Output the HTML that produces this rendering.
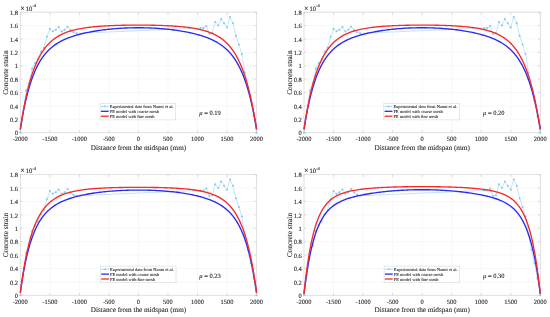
<!DOCTYPE html><html><head><meta charset="utf-8"><style>html,body{margin:0;padding:0;background:#fff;}svg{display:block;}text{font-family:"Liberation Serif",serif;fill:#2b2b2b;stroke:#2b2b2b;stroke-width:0.12px;text-rendering:geometricPrecision;}</style></head><body>
<svg width="550" height="317" viewBox="0 0 550 317">
<rect width="550" height="317" fill="#fff"/>
<line x1="20.30" y1="12.20" x2="20.30" y2="132.70" stroke="#f5f5f5" stroke-width="0.7"/>
<line x1="49.84" y1="12.20" x2="49.84" y2="132.70" stroke="#f5f5f5" stroke-width="0.7"/>
<line x1="79.38" y1="12.20" x2="79.38" y2="132.70" stroke="#f5f5f5" stroke-width="0.7"/>
<line x1="108.91" y1="12.20" x2="108.91" y2="132.70" stroke="#f5f5f5" stroke-width="0.7"/>
<line x1="138.45" y1="12.20" x2="138.45" y2="132.70" stroke="#f5f5f5" stroke-width="0.7"/>
<line x1="167.99" y1="12.20" x2="167.99" y2="132.70" stroke="#f5f5f5" stroke-width="0.7"/>
<line x1="197.53" y1="12.20" x2="197.53" y2="132.70" stroke="#f5f5f5" stroke-width="0.7"/>
<line x1="227.06" y1="12.20" x2="227.06" y2="132.70" stroke="#f5f5f5" stroke-width="0.7"/>
<line x1="256.60" y1="12.20" x2="256.60" y2="132.70" stroke="#f5f5f5" stroke-width="0.7"/>
<line x1="20.30" y1="132.70" x2="256.60" y2="132.70" stroke="#f5f5f5" stroke-width="0.7"/>
<line x1="20.30" y1="119.31" x2="256.60" y2="119.31" stroke="#f5f5f5" stroke-width="0.7"/>
<line x1="20.30" y1="105.92" x2="256.60" y2="105.92" stroke="#f5f5f5" stroke-width="0.7"/>
<line x1="20.30" y1="92.53" x2="256.60" y2="92.53" stroke="#f5f5f5" stroke-width="0.7"/>
<line x1="20.30" y1="79.14" x2="256.60" y2="79.14" stroke="#f5f5f5" stroke-width="0.7"/>
<line x1="20.30" y1="65.76" x2="256.60" y2="65.76" stroke="#f5f5f5" stroke-width="0.7"/>
<line x1="20.30" y1="52.37" x2="256.60" y2="52.37" stroke="#f5f5f5" stroke-width="0.7"/>
<line x1="20.30" y1="38.98" x2="256.60" y2="38.98" stroke="#f5f5f5" stroke-width="0.7"/>
<line x1="20.30" y1="25.59" x2="256.60" y2="25.59" stroke="#f5f5f5" stroke-width="0.7"/>
<line x1="20.30" y1="12.20" x2="256.60" y2="12.20" stroke="#f5f5f5" stroke-width="0.7"/>
<rect x="20.30" y="12.20" width="236.30" height="120.50" fill="none" stroke="#dcdcdc" stroke-width="0.8"/>
<line x1="20.30" y1="132.70" x2="20.30" y2="130.30" stroke="#cfcfcf" stroke-width="0.7"/>
<line x1="20.30" y1="12.20" x2="20.30" y2="14.60" stroke="#cfcfcf" stroke-width="0.7"/>
<line x1="49.84" y1="132.70" x2="49.84" y2="130.30" stroke="#cfcfcf" stroke-width="0.7"/>
<line x1="49.84" y1="12.20" x2="49.84" y2="14.60" stroke="#cfcfcf" stroke-width="0.7"/>
<line x1="79.38" y1="132.70" x2="79.38" y2="130.30" stroke="#cfcfcf" stroke-width="0.7"/>
<line x1="79.38" y1="12.20" x2="79.38" y2="14.60" stroke="#cfcfcf" stroke-width="0.7"/>
<line x1="108.91" y1="132.70" x2="108.91" y2="130.30" stroke="#cfcfcf" stroke-width="0.7"/>
<line x1="108.91" y1="12.20" x2="108.91" y2="14.60" stroke="#cfcfcf" stroke-width="0.7"/>
<line x1="138.45" y1="132.70" x2="138.45" y2="130.30" stroke="#cfcfcf" stroke-width="0.7"/>
<line x1="138.45" y1="12.20" x2="138.45" y2="14.60" stroke="#cfcfcf" stroke-width="0.7"/>
<line x1="167.99" y1="132.70" x2="167.99" y2="130.30" stroke="#cfcfcf" stroke-width="0.7"/>
<line x1="167.99" y1="12.20" x2="167.99" y2="14.60" stroke="#cfcfcf" stroke-width="0.7"/>
<line x1="197.53" y1="132.70" x2="197.53" y2="130.30" stroke="#cfcfcf" stroke-width="0.7"/>
<line x1="197.53" y1="12.20" x2="197.53" y2="14.60" stroke="#cfcfcf" stroke-width="0.7"/>
<line x1="227.06" y1="132.70" x2="227.06" y2="130.30" stroke="#cfcfcf" stroke-width="0.7"/>
<line x1="227.06" y1="12.20" x2="227.06" y2="14.60" stroke="#cfcfcf" stroke-width="0.7"/>
<line x1="256.60" y1="132.70" x2="256.60" y2="130.30" stroke="#cfcfcf" stroke-width="0.7"/>
<line x1="256.60" y1="12.20" x2="256.60" y2="14.60" stroke="#cfcfcf" stroke-width="0.7"/>
<line x1="20.30" y1="132.70" x2="22.70" y2="132.70" stroke="#cfcfcf" stroke-width="0.7"/>
<line x1="256.60" y1="132.70" x2="254.20" y2="132.70" stroke="#cfcfcf" stroke-width="0.7"/>
<line x1="20.30" y1="119.31" x2="22.70" y2="119.31" stroke="#cfcfcf" stroke-width="0.7"/>
<line x1="256.60" y1="119.31" x2="254.20" y2="119.31" stroke="#cfcfcf" stroke-width="0.7"/>
<line x1="20.30" y1="105.92" x2="22.70" y2="105.92" stroke="#cfcfcf" stroke-width="0.7"/>
<line x1="256.60" y1="105.92" x2="254.20" y2="105.92" stroke="#cfcfcf" stroke-width="0.7"/>
<line x1="20.30" y1="92.53" x2="22.70" y2="92.53" stroke="#cfcfcf" stroke-width="0.7"/>
<line x1="256.60" y1="92.53" x2="254.20" y2="92.53" stroke="#cfcfcf" stroke-width="0.7"/>
<line x1="20.30" y1="79.14" x2="22.70" y2="79.14" stroke="#cfcfcf" stroke-width="0.7"/>
<line x1="256.60" y1="79.14" x2="254.20" y2="79.14" stroke="#cfcfcf" stroke-width="0.7"/>
<line x1="20.30" y1="65.76" x2="22.70" y2="65.76" stroke="#cfcfcf" stroke-width="0.7"/>
<line x1="256.60" y1="65.76" x2="254.20" y2="65.76" stroke="#cfcfcf" stroke-width="0.7"/>
<line x1="20.30" y1="52.37" x2="22.70" y2="52.37" stroke="#cfcfcf" stroke-width="0.7"/>
<line x1="256.60" y1="52.37" x2="254.20" y2="52.37" stroke="#cfcfcf" stroke-width="0.7"/>
<line x1="20.30" y1="38.98" x2="22.70" y2="38.98" stroke="#cfcfcf" stroke-width="0.7"/>
<line x1="256.60" y1="38.98" x2="254.20" y2="38.98" stroke="#cfcfcf" stroke-width="0.7"/>
<line x1="20.30" y1="25.59" x2="22.70" y2="25.59" stroke="#cfcfcf" stroke-width="0.7"/>
<line x1="256.60" y1="25.59" x2="254.20" y2="25.59" stroke="#cfcfcf" stroke-width="0.7"/>
<line x1="20.30" y1="12.20" x2="22.70" y2="12.20" stroke="#cfcfcf" stroke-width="0.7"/>
<line x1="256.60" y1="12.20" x2="254.20" y2="12.20" stroke="#cfcfcf" stroke-width="0.7"/>
<polyline points="20.30,132.70 23.25,112.62 26.21,90.53 29.16,83.16 32.12,68.43 35.07,63.08 38.02,59.06 40.98,51.70 43.93,47.68 46.88,36.70 49.84,28.67 52.79,31.21 55.75,29.81 58.70,26.99 61.65,31.41 64.61,29.81 67.56,26.66 70.51,30.07 73.47,32.28 76.42,33.35 200.48,28.00 203.43,28.00 206.39,25.99 209.34,33.69 212.29,32.89 215.25,21.91 218.20,25.52 221.16,19.10 224.11,23.31 227.06,27.40 230.02,17.09 232.97,23.31 235.92,35.70 238.88,44.47 241.83,53.97 244.79,72.45 247.74,87.18 250.69,100.57 253.65,115.96 256.60,132.70" fill="none" stroke="#a2d9f1" stroke-width="0.65"/>
<circle cx="20.30" cy="132.70" r="1.0" fill="#7cc9ea"/>
<circle cx="23.25" cy="112.62" r="1.0" fill="#7cc9ea"/>
<circle cx="26.21" cy="90.53" r="1.0" fill="#7cc9ea"/>
<circle cx="29.16" cy="83.16" r="1.0" fill="#7cc9ea"/>
<circle cx="32.12" cy="68.43" r="1.0" fill="#7cc9ea"/>
<circle cx="35.07" cy="63.08" r="1.0" fill="#7cc9ea"/>
<circle cx="38.02" cy="59.06" r="1.0" fill="#7cc9ea"/>
<circle cx="40.98" cy="51.70" r="1.0" fill="#7cc9ea"/>
<circle cx="43.93" cy="47.68" r="1.0" fill="#7cc9ea"/>
<circle cx="46.88" cy="36.70" r="1.0" fill="#7cc9ea"/>
<circle cx="49.84" cy="28.67" r="1.0" fill="#7cc9ea"/>
<circle cx="52.79" cy="31.21" r="1.0" fill="#7cc9ea"/>
<circle cx="55.75" cy="29.81" r="1.0" fill="#7cc9ea"/>
<circle cx="58.70" cy="26.99" r="1.0" fill="#7cc9ea"/>
<circle cx="61.65" cy="31.41" r="1.0" fill="#7cc9ea"/>
<circle cx="64.61" cy="29.81" r="1.0" fill="#7cc9ea"/>
<circle cx="67.56" cy="26.66" r="1.0" fill="#7cc9ea"/>
<circle cx="70.51" cy="30.07" r="1.0" fill="#7cc9ea"/>
<circle cx="73.47" cy="32.28" r="1.0" fill="#7cc9ea"/>
<circle cx="76.42" cy="33.35" r="1.0" fill="#7cc9ea"/>
<circle cx="200.48" cy="28.00" r="1.0" fill="#7cc9ea"/>
<circle cx="203.43" cy="28.00" r="1.0" fill="#7cc9ea"/>
<circle cx="206.39" cy="25.99" r="1.0" fill="#7cc9ea"/>
<circle cx="209.34" cy="33.69" r="1.0" fill="#7cc9ea"/>
<circle cx="212.29" cy="32.89" r="1.0" fill="#7cc9ea"/>
<circle cx="215.25" cy="21.91" r="1.0" fill="#7cc9ea"/>
<circle cx="218.20" cy="25.52" r="1.0" fill="#7cc9ea"/>
<circle cx="221.16" cy="19.10" r="1.0" fill="#7cc9ea"/>
<circle cx="224.11" cy="23.31" r="1.0" fill="#7cc9ea"/>
<circle cx="227.06" cy="27.40" r="1.0" fill="#7cc9ea"/>
<circle cx="230.02" cy="17.09" r="1.0" fill="#7cc9ea"/>
<circle cx="232.97" cy="23.31" r="1.0" fill="#7cc9ea"/>
<circle cx="235.92" cy="35.70" r="1.0" fill="#7cc9ea"/>
<circle cx="238.88" cy="44.47" r="1.0" fill="#7cc9ea"/>
<circle cx="241.83" cy="53.97" r="1.0" fill="#7cc9ea"/>
<circle cx="244.79" cy="72.45" r="1.0" fill="#7cc9ea"/>
<circle cx="247.74" cy="87.18" r="1.0" fill="#7cc9ea"/>
<circle cx="250.69" cy="100.57" r="1.0" fill="#7cc9ea"/>
<circle cx="253.65" cy="115.96" r="1.0" fill="#7cc9ea"/>
<circle cx="256.60" cy="132.70" r="1.0" fill="#7cc9ea"/>
<polyline points="20.30,129.37 20.60,127.50 20.89,125.67 21.19,123.88 21.48,122.13 21.78,120.41 22.07,118.73 22.37,117.09 22.66,115.48 22.96,113.91 23.25,112.37 23.55,110.86 23.84,109.38 24.14,107.93 24.44,106.51 24.73,105.13 25.03,103.77 25.32,102.44 25.62,101.13 25.91,99.86 26.21,98.61 26.50,97.39 26.80,96.19 27.09,95.01 27.39,93.86 27.68,92.74 27.98,91.63 28.28,90.55 28.57,89.50 28.87,88.46 29.16,87.44 29.46,86.45 29.75,85.47 30.05,84.52 30.34,83.58 30.64,82.67 30.93,81.77 31.23,80.89 31.52,80.02 31.82,79.18 32.12,78.35 32.41,77.54 32.71,76.74 33.00,75.96 33.30,75.19 33.59,74.44 33.89,73.71 34.18,72.99 34.48,72.28 34.77,71.59 35.07,70.91 35.36,70.24 35.66,69.59 35.95,68.95 36.25,68.32 36.55,67.70 36.84,67.10 37.14,66.50 37.43,65.92 37.73,65.35 38.02,64.79 38.32,64.24 38.61,63.70 38.91,63.17 39.20,62.65 39.50,62.14 39.79,61.64 40.09,61.15 40.39,60.67 40.68,60.20 40.98,59.73 41.27,59.28 41.57,58.83 41.86,58.39 42.16,57.96 42.45,57.54 42.75,57.12 43.04,56.71 43.34,56.31 43.63,55.92 43.93,55.53 44.23,55.15 44.52,54.78 44.82,54.41 45.11,54.05 45.41,53.69 45.70,53.35 46.00,53.00 46.29,52.67 46.59,52.34 46.88,52.01 47.18,51.69 47.47,51.38 47.77,51.07 48.07,50.76 48.36,50.47 48.66,50.17 48.95,49.88 49.25,49.60 49.54,49.32 49.84,49.04 51.31,47.73 52.79,46.52 54.27,45.40 55.75,44.37 57.22,43.40 58.70,42.50 60.18,41.67 61.65,40.88 63.13,40.15 64.61,39.46 66.08,38.82 67.56,38.21 69.04,37.63 70.51,37.09 71.99,36.57 73.47,36.09 74.94,35.62 76.42,35.18 77.90,34.77 79.38,34.37 80.85,33.99 82.33,33.62 83.81,33.28 85.28,32.95 86.76,32.63 88.24,32.33 89.71,32.04 91.19,31.76 92.67,31.49 94.14,31.24 95.62,30.99 97.10,30.76 98.57,30.54 100.05,30.33 101.53,30.12 103.00,29.93 104.48,29.75 105.96,29.57 107.44,29.41 108.91,29.25 110.39,29.10 111.87,28.96 113.34,28.82 114.82,28.70 116.30,28.58 117.77,28.47 119.25,28.37 120.73,28.28 122.20,28.19 123.68,28.12 125.16,28.04 126.64,27.98 128.11,27.93 129.59,27.88 131.07,27.84 132.54,27.80 134.02,27.78 135.50,27.76 136.97,27.75 138.45,27.75 139.93,27.75 141.40,27.76 142.88,27.78 144.36,27.80 145.83,27.84 147.31,27.88 148.79,27.93 150.27,27.98 151.74,28.05 153.22,28.12 154.70,28.20 156.17,28.29 157.65,28.38 159.13,28.48 160.60,28.60 162.08,28.71 163.56,28.84 165.03,28.98 166.51,29.12 167.99,29.28 169.46,29.44 170.94,29.61 172.42,29.79 173.90,29.98 175.37,30.18 176.85,30.39 178.33,30.61 179.80,30.84 181.28,31.08 182.76,31.33 184.23,31.59 185.71,31.86 187.19,32.15 188.66,32.45 190.14,32.76 191.62,33.09 193.09,33.43 194.57,33.79 196.05,34.17 197.53,34.56 199.00,34.98 200.48,35.41 201.96,35.87 203.43,36.35 204.91,36.86 206.39,37.39 207.86,37.96 209.34,38.55 210.82,39.19 212.29,39.86 213.77,40.58 215.25,41.34 216.72,42.16 218.20,43.03 219.68,43.96 221.16,44.97 222.63,46.05 224.11,47.21 225.59,48.47 227.06,49.83 227.36,50.11 227.65,50.40 227.95,50.70 228.24,51.00 228.54,51.30 228.83,51.61 229.13,51.93 229.43,52.25 229.72,52.57 230.02,52.90 230.31,53.24 230.61,53.58 230.90,53.93 231.20,54.28 231.49,54.64 231.79,55.01 232.08,55.38 232.38,55.76 232.67,56.14 232.97,56.54 233.27,56.93 233.56,57.34 233.86,57.75 234.15,58.17 234.45,58.60 234.74,59.03 235.04,59.48 235.33,59.93 235.63,60.39 235.92,60.85 236.22,61.33 236.51,61.81 236.81,62.31 237.11,62.81 237.40,63.32 237.70,63.84 237.99,64.37 238.29,64.91 238.58,65.46 238.88,66.02 239.17,66.59 239.47,67.17 239.76,67.76 240.06,68.36 240.35,68.97 240.65,69.60 240.95,70.24 241.24,70.89 241.54,71.55 241.83,72.22 242.13,72.91 242.42,73.60 242.72,74.32 243.01,75.04 243.31,75.78 243.60,76.54 243.90,77.30 244.19,78.09 244.49,78.89 244.79,79.70 245.08,80.53 245.38,81.37 245.67,82.23 245.97,83.11 246.26,84.01 246.56,84.92 246.85,85.85 247.15,86.80 247.44,87.77 247.74,88.75 248.03,89.76 248.33,90.78 248.62,91.82 248.92,92.89 249.22,93.98 249.51,95.08 249.81,96.21 250.10,97.36 250.40,98.54 250.69,99.74 250.99,100.96 251.28,102.20 251.58,103.47 251.87,104.77 252.17,106.09 252.46,107.43 252.76,108.81 253.06,110.21 253.35,111.64 253.65,113.09 253.94,114.58 254.24,116.10 254.53,117.64 254.83,119.22 255.12,120.83 255.42,122.47 255.71,124.14 256.01,125.85 256.30,127.59 256.60,129.37" fill="none" stroke="#2a2af4" stroke-width="1.35"/>
<polyline points="20.30,129.36 20.60,127.36 20.89,125.40 21.19,123.48 21.48,121.60 21.78,119.76 22.07,117.96 22.37,116.19 22.66,114.46 22.96,112.76 23.25,111.10 23.55,109.48 23.84,107.88 24.14,106.32 24.44,104.79 24.73,103.30 25.03,101.83 25.32,100.39 25.62,98.98 25.91,97.60 26.21,96.25 26.50,94.93 26.80,93.63 27.09,92.36 27.39,91.11 27.68,89.89 27.98,88.69 28.28,87.52 28.57,86.37 28.87,85.25 29.16,84.14 29.46,83.06 29.75,82.00 30.05,80.96 30.34,79.95 30.64,78.95 30.93,77.97 31.23,77.01 31.52,76.07 31.82,75.15 32.12,74.25 32.41,73.37 32.71,72.50 33.00,71.65 33.30,70.82 33.59,70.00 33.89,69.20 34.18,68.41 34.48,67.64 34.77,66.89 35.07,66.15 35.36,65.42 35.66,64.71 35.95,64.01 36.25,63.33 36.55,62.66 36.84,62.00 37.14,61.35 37.43,60.72 37.73,60.10 38.02,59.49 38.32,58.89 38.61,58.31 38.91,57.73 39.20,57.17 39.50,56.62 39.79,56.07 40.09,55.54 40.39,55.02 40.68,54.51 40.98,54.01 41.27,53.51 41.57,53.03 41.86,52.56 42.16,52.09 42.45,51.63 42.75,51.19 43.04,50.75 43.34,50.31 43.63,49.89 43.93,49.48 44.23,49.07 44.52,48.67 44.82,48.27 45.11,47.89 45.41,47.51 45.70,47.14 46.00,46.77 46.29,46.42 46.59,46.06 46.88,45.72 47.18,45.38 47.47,45.05 47.77,44.72 48.07,44.40 48.36,44.08 48.66,43.78 48.95,43.47 49.25,43.17 49.54,42.88 49.84,42.59 51.31,41.23 52.79,39.98 54.27,38.84 55.75,37.79 57.22,36.83 58.70,35.95 60.18,35.14 61.65,34.40 63.13,33.71 64.61,33.08 66.08,32.49 67.56,31.95 69.04,31.46 70.51,30.99 71.99,30.57 73.47,30.17 74.94,29.80 76.42,29.46 77.90,29.14 79.38,28.85 80.85,28.57 82.33,28.31 83.81,28.08 85.28,27.85 86.76,27.64 88.24,27.45 89.71,27.27 91.19,27.10 92.67,26.94 94.14,26.79 95.62,26.65 97.10,26.52 98.57,26.40 100.05,26.29 101.53,26.18 103.00,26.08 104.48,25.99 105.96,25.90 107.44,25.82 108.91,25.74 110.39,25.67 111.87,25.61 113.34,25.55 114.82,25.49 116.30,25.44 117.77,25.39 119.25,25.35 120.73,25.31 122.20,25.27 123.68,25.24 125.16,25.21 126.64,25.18 128.11,25.16 129.59,25.14 131.07,25.12 132.54,25.11 134.02,25.10 135.50,25.09 136.97,25.09 138.45,25.08 139.93,25.09 141.40,25.09 142.88,25.10 144.36,25.11 145.83,25.12 147.31,25.14 148.79,25.16 150.27,25.18 151.74,25.21 153.22,25.24 154.70,25.27 156.17,25.31 157.65,25.35 159.13,25.39 160.60,25.44 162.08,25.50 163.56,25.55 165.03,25.62 166.51,25.68 167.99,25.76 169.46,25.83 170.94,25.92 172.42,26.01 173.90,26.10 175.37,26.21 176.85,26.32 178.33,26.44 179.80,26.56 181.28,26.70 182.76,26.84 184.23,27.00 185.71,27.16 187.19,27.34 188.66,27.53 190.14,27.73 191.62,27.95 193.09,28.18 194.57,28.43 196.05,28.70 197.53,28.99 199.00,29.30 200.48,29.64 201.96,29.99 203.43,30.38 204.91,30.80 206.39,31.25 207.86,31.73 209.34,32.26 210.82,32.83 212.29,33.44 213.77,34.11 215.25,34.83 216.72,35.61 218.20,36.47 219.68,37.39 221.16,38.40 222.63,39.49 224.11,40.69 225.59,41.99 227.06,43.42 227.36,43.72 227.65,44.02 227.95,44.33 228.24,44.65 228.54,44.97 228.83,45.30 229.13,45.63 229.43,45.97 229.72,46.31 230.02,46.67 230.31,47.02 230.61,47.39 230.90,47.76 231.20,48.14 231.49,48.52 231.79,48.92 232.08,49.31 232.38,49.72 232.67,50.13 232.97,50.56 233.27,50.98 233.56,51.42 233.86,51.87 234.15,52.32 234.45,52.78 234.74,53.25 235.04,53.73 235.33,54.22 235.63,54.71 235.92,55.22 236.22,55.73 236.51,56.26 236.81,56.79 237.11,57.34 237.40,57.89 237.70,58.46 237.99,59.03 238.29,59.62 238.58,60.22 238.88,60.83 239.17,61.45 239.47,62.08 239.76,62.72 240.06,63.38 240.35,64.04 240.65,64.72 240.95,65.42 241.24,66.12 241.54,66.84 241.83,67.58 242.13,68.32 242.42,69.09 242.72,69.86 243.01,70.65 243.31,71.46 243.60,72.28 243.90,73.11 244.19,73.97 244.49,74.84 244.79,75.72 245.08,76.62 245.38,77.54 245.67,78.48 245.97,79.44 246.26,80.41 246.56,81.40 246.85,82.41 247.15,83.44 247.44,84.49 247.74,85.56 248.03,86.65 248.33,87.77 248.62,88.90 248.92,90.05 249.22,91.23 249.51,92.43 249.81,93.66 250.10,94.90 250.40,96.17 250.69,97.47 250.99,98.79 251.28,100.14 251.58,101.51 251.87,102.91 252.17,104.33 252.46,105.79 252.76,107.27 253.06,108.78 253.35,110.32 253.65,111.89 253.94,113.49 254.24,115.12 254.53,116.78 254.83,118.48 255.12,120.20 255.42,121.97 255.71,123.76 256.01,125.59 256.30,127.46 256.60,129.36" fill="none" stroke="#f62a2a" stroke-width="1.35"/>
<text x="20.30" y="141.20" font-size="6.5" text-anchor="middle">-2000</text>
<text x="49.84" y="141.20" font-size="6.5" text-anchor="middle">-1500</text>
<text x="79.38" y="141.20" font-size="6.5" text-anchor="middle">-1000</text>
<text x="108.91" y="141.20" font-size="6.5" text-anchor="middle">-500</text>
<text x="138.45" y="141.20" font-size="6.5" text-anchor="middle">0</text>
<text x="167.99" y="141.20" font-size="6.5" text-anchor="middle">500</text>
<text x="197.53" y="141.20" font-size="6.5" text-anchor="middle">1000</text>
<text x="227.06" y="141.20" font-size="6.5" text-anchor="middle">1500</text>
<text x="256.60" y="141.20" font-size="6.5" text-anchor="middle">2000</text>
<text x="18.10" y="135.40" font-size="6.5" text-anchor="end">0</text>
<text x="18.10" y="122.01" font-size="6.5" text-anchor="end">0.2</text>
<text x="18.10" y="108.62" font-size="6.5" text-anchor="end">0.4</text>
<text x="18.10" y="95.23" font-size="6.5" text-anchor="end">0.6</text>
<text x="18.10" y="81.84" font-size="6.5" text-anchor="end">0.8</text>
<text x="18.10" y="68.46" font-size="6.5" text-anchor="end">1</text>
<text x="18.10" y="55.07" font-size="6.5" text-anchor="end">1.2</text>
<text x="18.10" y="41.68" font-size="6.5" text-anchor="end">1.4</text>
<text x="18.10" y="28.29" font-size="6.5" text-anchor="end">1.6</text>
<text x="18.10" y="14.90" font-size="6.5" text-anchor="end">1.8</text>
<text x="20.30" y="11.00" font-size="8">×</text>
<text x="25.70" y="10.70" font-size="6.6">10</text>
<text x="32.30" y="7.10" font-size="4.6">-4</text>
<text x="138.45" y="149.50" font-size="7.2" style="stroke-width:0.1px" text-anchor="middle">Distance from the midspan (mm)</text>
<text transform="translate(7.90,72.65) rotate(-90)" font-size="7.3" style="stroke-width:0.1px" text-anchor="middle">Concrete strain</text>
<rect x="100.10" y="103.30" width="75.6" height="16.6" fill="#fff" stroke="#d8d8d8" stroke-width="0.6"/>
<line x1="100.90" y1="106.40" x2="108.70" y2="106.40" stroke="#7fd0f2" stroke-width="0.8"/>
<circle cx="104.80" cy="106.40" r="0.9" fill="#7fd0f2"/>
<text x="109.70" y="107.90" font-size="4.45" style="stroke-width:0.08px">Experimental data from Nanni et al.</text>
<line x1="100.90" y1="111.30" x2="108.70" y2="111.30" stroke="#2a2af4" stroke-width="1.3"/>
<text x="109.70" y="112.80" font-size="4.45" style="stroke-width:0.08px">FE model with coarse mesh</text>
<line x1="100.90" y1="116.20" x2="108.70" y2="116.20" stroke="#f62a2a" stroke-width="1.3"/>
<text x="109.70" y="117.70" font-size="4.45" style="stroke-width:0.08px">FE model with fine mesh</text>
<text x="199.30" y="114.90" font-size="6.5"><tspan font-style="italic">μ</tspan> = 0.19</text>
<line x1="304.00" y1="12.20" x2="304.00" y2="132.70" stroke="#f5f5f5" stroke-width="0.7"/>
<line x1="333.54" y1="12.20" x2="333.54" y2="132.70" stroke="#f5f5f5" stroke-width="0.7"/>
<line x1="363.07" y1="12.20" x2="363.07" y2="132.70" stroke="#f5f5f5" stroke-width="0.7"/>
<line x1="392.61" y1="12.20" x2="392.61" y2="132.70" stroke="#f5f5f5" stroke-width="0.7"/>
<line x1="422.15" y1="12.20" x2="422.15" y2="132.70" stroke="#f5f5f5" stroke-width="0.7"/>
<line x1="451.69" y1="12.20" x2="451.69" y2="132.70" stroke="#f5f5f5" stroke-width="0.7"/>
<line x1="481.22" y1="12.20" x2="481.22" y2="132.70" stroke="#f5f5f5" stroke-width="0.7"/>
<line x1="510.76" y1="12.20" x2="510.76" y2="132.70" stroke="#f5f5f5" stroke-width="0.7"/>
<line x1="540.30" y1="12.20" x2="540.30" y2="132.70" stroke="#f5f5f5" stroke-width="0.7"/>
<line x1="304.00" y1="132.70" x2="540.30" y2="132.70" stroke="#f5f5f5" stroke-width="0.7"/>
<line x1="304.00" y1="119.31" x2="540.30" y2="119.31" stroke="#f5f5f5" stroke-width="0.7"/>
<line x1="304.00" y1="105.92" x2="540.30" y2="105.92" stroke="#f5f5f5" stroke-width="0.7"/>
<line x1="304.00" y1="92.53" x2="540.30" y2="92.53" stroke="#f5f5f5" stroke-width="0.7"/>
<line x1="304.00" y1="79.14" x2="540.30" y2="79.14" stroke="#f5f5f5" stroke-width="0.7"/>
<line x1="304.00" y1="65.76" x2="540.30" y2="65.76" stroke="#f5f5f5" stroke-width="0.7"/>
<line x1="304.00" y1="52.37" x2="540.30" y2="52.37" stroke="#f5f5f5" stroke-width="0.7"/>
<line x1="304.00" y1="38.98" x2="540.30" y2="38.98" stroke="#f5f5f5" stroke-width="0.7"/>
<line x1="304.00" y1="25.59" x2="540.30" y2="25.59" stroke="#f5f5f5" stroke-width="0.7"/>
<line x1="304.00" y1="12.20" x2="540.30" y2="12.20" stroke="#f5f5f5" stroke-width="0.7"/>
<rect x="304.00" y="12.20" width="236.30" height="120.50" fill="none" stroke="#dcdcdc" stroke-width="0.8"/>
<line x1="304.00" y1="132.70" x2="304.00" y2="130.30" stroke="#cfcfcf" stroke-width="0.7"/>
<line x1="304.00" y1="12.20" x2="304.00" y2="14.60" stroke="#cfcfcf" stroke-width="0.7"/>
<line x1="333.54" y1="132.70" x2="333.54" y2="130.30" stroke="#cfcfcf" stroke-width="0.7"/>
<line x1="333.54" y1="12.20" x2="333.54" y2="14.60" stroke="#cfcfcf" stroke-width="0.7"/>
<line x1="363.07" y1="132.70" x2="363.07" y2="130.30" stroke="#cfcfcf" stroke-width="0.7"/>
<line x1="363.07" y1="12.20" x2="363.07" y2="14.60" stroke="#cfcfcf" stroke-width="0.7"/>
<line x1="392.61" y1="132.70" x2="392.61" y2="130.30" stroke="#cfcfcf" stroke-width="0.7"/>
<line x1="392.61" y1="12.20" x2="392.61" y2="14.60" stroke="#cfcfcf" stroke-width="0.7"/>
<line x1="422.15" y1="132.70" x2="422.15" y2="130.30" stroke="#cfcfcf" stroke-width="0.7"/>
<line x1="422.15" y1="12.20" x2="422.15" y2="14.60" stroke="#cfcfcf" stroke-width="0.7"/>
<line x1="451.69" y1="132.70" x2="451.69" y2="130.30" stroke="#cfcfcf" stroke-width="0.7"/>
<line x1="451.69" y1="12.20" x2="451.69" y2="14.60" stroke="#cfcfcf" stroke-width="0.7"/>
<line x1="481.22" y1="132.70" x2="481.22" y2="130.30" stroke="#cfcfcf" stroke-width="0.7"/>
<line x1="481.22" y1="12.20" x2="481.22" y2="14.60" stroke="#cfcfcf" stroke-width="0.7"/>
<line x1="510.76" y1="132.70" x2="510.76" y2="130.30" stroke="#cfcfcf" stroke-width="0.7"/>
<line x1="510.76" y1="12.20" x2="510.76" y2="14.60" stroke="#cfcfcf" stroke-width="0.7"/>
<line x1="540.30" y1="132.70" x2="540.30" y2="130.30" stroke="#cfcfcf" stroke-width="0.7"/>
<line x1="540.30" y1="12.20" x2="540.30" y2="14.60" stroke="#cfcfcf" stroke-width="0.7"/>
<line x1="304.00" y1="132.70" x2="306.40" y2="132.70" stroke="#cfcfcf" stroke-width="0.7"/>
<line x1="540.30" y1="132.70" x2="537.90" y2="132.70" stroke="#cfcfcf" stroke-width="0.7"/>
<line x1="304.00" y1="119.31" x2="306.40" y2="119.31" stroke="#cfcfcf" stroke-width="0.7"/>
<line x1="540.30" y1="119.31" x2="537.90" y2="119.31" stroke="#cfcfcf" stroke-width="0.7"/>
<line x1="304.00" y1="105.92" x2="306.40" y2="105.92" stroke="#cfcfcf" stroke-width="0.7"/>
<line x1="540.30" y1="105.92" x2="537.90" y2="105.92" stroke="#cfcfcf" stroke-width="0.7"/>
<line x1="304.00" y1="92.53" x2="306.40" y2="92.53" stroke="#cfcfcf" stroke-width="0.7"/>
<line x1="540.30" y1="92.53" x2="537.90" y2="92.53" stroke="#cfcfcf" stroke-width="0.7"/>
<line x1="304.00" y1="79.14" x2="306.40" y2="79.14" stroke="#cfcfcf" stroke-width="0.7"/>
<line x1="540.30" y1="79.14" x2="537.90" y2="79.14" stroke="#cfcfcf" stroke-width="0.7"/>
<line x1="304.00" y1="65.76" x2="306.40" y2="65.76" stroke="#cfcfcf" stroke-width="0.7"/>
<line x1="540.30" y1="65.76" x2="537.90" y2="65.76" stroke="#cfcfcf" stroke-width="0.7"/>
<line x1="304.00" y1="52.37" x2="306.40" y2="52.37" stroke="#cfcfcf" stroke-width="0.7"/>
<line x1="540.30" y1="52.37" x2="537.90" y2="52.37" stroke="#cfcfcf" stroke-width="0.7"/>
<line x1="304.00" y1="38.98" x2="306.40" y2="38.98" stroke="#cfcfcf" stroke-width="0.7"/>
<line x1="540.30" y1="38.98" x2="537.90" y2="38.98" stroke="#cfcfcf" stroke-width="0.7"/>
<line x1="304.00" y1="25.59" x2="306.40" y2="25.59" stroke="#cfcfcf" stroke-width="0.7"/>
<line x1="540.30" y1="25.59" x2="537.90" y2="25.59" stroke="#cfcfcf" stroke-width="0.7"/>
<line x1="304.00" y1="12.20" x2="306.40" y2="12.20" stroke="#cfcfcf" stroke-width="0.7"/>
<line x1="540.30" y1="12.20" x2="537.90" y2="12.20" stroke="#cfcfcf" stroke-width="0.7"/>
<polyline points="304.00,132.70 306.95,112.62 309.91,90.53 312.86,83.16 315.81,68.43 318.77,63.08 321.72,59.06 324.68,51.70 327.63,47.68 330.58,36.70 333.54,28.67 336.49,31.21 339.44,29.81 342.40,26.99 345.35,31.41 348.31,29.81 351.26,26.66 354.21,30.07 357.17,32.28 360.12,33.35 484.18,28.00 487.13,28.00 490.09,25.99 493.04,33.69 495.99,32.89 498.95,21.91 501.90,25.52 504.85,19.10 507.81,23.31 510.76,27.40 513.72,17.09 516.67,23.31 519.62,35.70 522.58,44.47 525.53,53.97 528.48,72.45 531.44,87.18 534.39,100.57 537.35,115.96 540.30,132.70" fill="none" stroke="#a2d9f1" stroke-width="0.65"/>
<circle cx="304.00" cy="132.70" r="1.0" fill="#7cc9ea"/>
<circle cx="306.95" cy="112.62" r="1.0" fill="#7cc9ea"/>
<circle cx="309.91" cy="90.53" r="1.0" fill="#7cc9ea"/>
<circle cx="312.86" cy="83.16" r="1.0" fill="#7cc9ea"/>
<circle cx="315.81" cy="68.43" r="1.0" fill="#7cc9ea"/>
<circle cx="318.77" cy="63.08" r="1.0" fill="#7cc9ea"/>
<circle cx="321.72" cy="59.06" r="1.0" fill="#7cc9ea"/>
<circle cx="324.68" cy="51.70" r="1.0" fill="#7cc9ea"/>
<circle cx="327.63" cy="47.68" r="1.0" fill="#7cc9ea"/>
<circle cx="330.58" cy="36.70" r="1.0" fill="#7cc9ea"/>
<circle cx="333.54" cy="28.67" r="1.0" fill="#7cc9ea"/>
<circle cx="336.49" cy="31.21" r="1.0" fill="#7cc9ea"/>
<circle cx="339.44" cy="29.81" r="1.0" fill="#7cc9ea"/>
<circle cx="342.40" cy="26.99" r="1.0" fill="#7cc9ea"/>
<circle cx="345.35" cy="31.41" r="1.0" fill="#7cc9ea"/>
<circle cx="348.31" cy="29.81" r="1.0" fill="#7cc9ea"/>
<circle cx="351.26" cy="26.66" r="1.0" fill="#7cc9ea"/>
<circle cx="354.21" cy="30.07" r="1.0" fill="#7cc9ea"/>
<circle cx="357.17" cy="32.28" r="1.0" fill="#7cc9ea"/>
<circle cx="360.12" cy="33.35" r="1.0" fill="#7cc9ea"/>
<circle cx="484.18" cy="28.00" r="1.0" fill="#7cc9ea"/>
<circle cx="487.13" cy="28.00" r="1.0" fill="#7cc9ea"/>
<circle cx="490.09" cy="25.99" r="1.0" fill="#7cc9ea"/>
<circle cx="493.04" cy="33.69" r="1.0" fill="#7cc9ea"/>
<circle cx="495.99" cy="32.89" r="1.0" fill="#7cc9ea"/>
<circle cx="498.95" cy="21.91" r="1.0" fill="#7cc9ea"/>
<circle cx="501.90" cy="25.52" r="1.0" fill="#7cc9ea"/>
<circle cx="504.85" cy="19.10" r="1.0" fill="#7cc9ea"/>
<circle cx="507.81" cy="23.31" r="1.0" fill="#7cc9ea"/>
<circle cx="510.76" cy="27.40" r="1.0" fill="#7cc9ea"/>
<circle cx="513.72" cy="17.09" r="1.0" fill="#7cc9ea"/>
<circle cx="516.67" cy="23.31" r="1.0" fill="#7cc9ea"/>
<circle cx="519.62" cy="35.70" r="1.0" fill="#7cc9ea"/>
<circle cx="522.58" cy="44.47" r="1.0" fill="#7cc9ea"/>
<circle cx="525.53" cy="53.97" r="1.0" fill="#7cc9ea"/>
<circle cx="528.48" cy="72.45" r="1.0" fill="#7cc9ea"/>
<circle cx="531.44" cy="87.18" r="1.0" fill="#7cc9ea"/>
<circle cx="534.39" cy="100.57" r="1.0" fill="#7cc9ea"/>
<circle cx="537.35" cy="115.96" r="1.0" fill="#7cc9ea"/>
<circle cx="540.30" cy="132.70" r="1.0" fill="#7cc9ea"/>
<polyline points="304.00,129.37 304.30,127.50 304.59,125.67 304.89,123.88 305.18,122.13 305.48,120.41 305.77,118.73 306.07,117.09 306.36,115.48 306.66,113.91 306.95,112.37 307.25,110.86 307.54,109.38 307.84,107.93 308.14,106.51 308.43,105.13 308.73,103.77 309.02,102.44 309.32,101.13 309.61,99.86 309.91,98.61 310.20,97.39 310.50,96.19 310.79,95.01 311.09,93.86 311.38,92.74 311.68,91.63 311.98,90.55 312.27,89.50 312.57,88.46 312.86,87.44 313.16,86.45 313.45,85.47 313.75,84.52 314.04,83.58 314.34,82.67 314.63,81.77 314.93,80.89 315.22,80.02 315.52,79.18 315.81,78.35 316.11,77.54 316.41,76.74 316.70,75.96 317.00,75.19 317.29,74.44 317.59,73.71 317.88,72.99 318.18,72.28 318.47,71.59 318.77,70.91 319.06,70.24 319.36,69.59 319.65,68.95 319.95,68.32 320.25,67.70 320.54,67.10 320.84,66.50 321.13,65.92 321.43,65.35 321.72,64.79 322.02,64.24 322.31,63.70 322.61,63.17 322.90,62.65 323.20,62.14 323.49,61.64 323.79,61.15 324.09,60.67 324.38,60.20 324.68,59.73 324.97,59.28 325.27,58.83 325.56,58.39 325.86,57.96 326.15,57.54 326.45,57.12 326.74,56.71 327.04,56.31 327.33,55.92 327.63,55.53 327.93,55.15 328.22,54.78 328.52,54.41 328.81,54.05 329.11,53.69 329.40,53.35 329.70,53.00 329.99,52.67 330.29,52.34 330.58,52.01 330.88,51.69 331.17,51.38 331.47,51.07 331.77,50.76 332.06,50.47 332.36,50.17 332.65,49.88 332.95,49.60 333.24,49.32 333.54,49.04 335.01,47.73 336.49,46.52 337.97,45.40 339.44,44.37 340.92,43.40 342.40,42.50 343.88,41.67 345.35,40.88 346.83,40.15 348.31,39.46 349.78,38.82 351.26,38.21 352.74,37.63 354.21,37.09 355.69,36.57 357.17,36.09 358.64,35.62 360.12,35.18 361.60,34.77 363.07,34.37 364.55,33.99 366.03,33.62 367.51,33.28 368.98,32.95 370.46,32.63 371.94,32.33 373.41,32.04 374.89,31.76 376.37,31.49 377.84,31.24 379.32,30.99 380.80,30.76 382.27,30.54 383.75,30.33 385.23,30.12 386.70,29.93 388.18,29.75 389.66,29.57 391.14,29.41 392.61,29.25 394.09,29.10 395.57,28.96 397.04,28.82 398.52,28.70 400.00,28.58 401.47,28.47 402.95,28.37 404.43,28.28 405.90,28.19 407.38,28.12 408.86,28.04 410.33,27.98 411.81,27.93 413.29,27.88 414.77,27.84 416.24,27.80 417.72,27.78 419.20,27.76 420.67,27.75 422.15,27.75 423.63,27.75 425.10,27.76 426.58,27.78 428.06,27.80 429.53,27.84 431.01,27.88 432.49,27.93 433.96,27.98 435.44,28.05 436.92,28.12 438.40,28.20 439.87,28.29 441.35,28.38 442.83,28.48 444.30,28.60 445.78,28.71 447.26,28.84 448.73,28.98 450.21,29.12 451.69,29.28 453.16,29.44 454.64,29.61 456.12,29.79 457.59,29.98 459.07,30.18 460.55,30.39 462.03,30.61 463.50,30.84 464.98,31.08 466.46,31.33 467.93,31.59 469.41,31.86 470.89,32.15 472.36,32.45 473.84,32.76 475.32,33.09 476.79,33.43 478.27,33.79 479.75,34.17 481.22,34.56 482.70,34.98 484.18,35.41 485.66,35.87 487.13,36.35 488.61,36.86 490.09,37.39 491.56,37.96 493.04,38.55 494.52,39.19 495.99,39.86 497.47,40.58 498.95,41.34 500.42,42.16 501.90,43.03 503.38,43.96 504.85,44.97 506.33,46.05 507.81,47.21 509.29,48.47 510.76,49.83 511.06,50.11 511.35,50.40 511.65,50.70 511.94,51.00 512.24,51.30 512.53,51.61 512.83,51.93 513.13,52.25 513.42,52.57 513.72,52.90 514.01,53.24 514.31,53.58 514.60,53.93 514.90,54.28 515.19,54.64 515.49,55.01 515.78,55.38 516.08,55.76 516.37,56.14 516.67,56.54 516.97,56.93 517.26,57.34 517.56,57.75 517.85,58.17 518.15,58.60 518.44,59.03 518.74,59.48 519.03,59.93 519.33,60.39 519.62,60.85 519.92,61.33 520.21,61.81 520.51,62.31 520.81,62.81 521.10,63.32 521.40,63.84 521.69,64.37 521.99,64.91 522.28,65.46 522.58,66.02 522.87,66.59 523.17,67.17 523.46,67.76 523.76,68.36 524.05,68.97 524.35,69.60 524.65,70.24 524.94,70.89 525.24,71.55 525.53,72.22 525.83,72.91 526.12,73.60 526.42,74.32 526.71,75.04 527.01,75.78 527.30,76.54 527.60,77.30 527.89,78.09 528.19,78.89 528.48,79.70 528.78,80.53 529.08,81.37 529.37,82.23 529.67,83.11 529.96,84.01 530.26,84.92 530.55,85.85 530.85,86.80 531.14,87.77 531.44,88.75 531.73,89.76 532.03,90.78 532.32,91.82 532.62,92.89 532.92,93.98 533.21,95.08 533.51,96.21 533.80,97.36 534.10,98.54 534.39,99.74 534.69,100.96 534.98,102.20 535.28,103.47 535.57,104.77 535.87,106.09 536.16,107.43 536.46,108.81 536.76,110.21 537.05,111.64 537.35,113.09 537.64,114.58 537.94,116.10 538.23,117.64 538.53,119.22 538.82,120.83 539.12,122.47 539.41,124.14 539.71,125.85 540.00,127.59 540.30,129.37" fill="none" stroke="#2a2af4" stroke-width="1.35"/>
<polyline points="304.00,129.36 304.30,127.36 304.59,125.40 304.89,123.48 305.18,121.60 305.48,119.76 305.77,117.96 306.07,116.19 306.36,114.46 306.66,112.76 306.95,111.10 307.25,109.48 307.54,107.88 307.84,106.32 308.14,104.79 308.43,103.30 308.73,101.83 309.02,100.39 309.32,98.98 309.61,97.60 309.91,96.25 310.20,94.93 310.50,93.63 310.79,92.36 311.09,91.11 311.38,89.89 311.68,88.69 311.98,87.52 312.27,86.37 312.57,85.25 312.86,84.14 313.16,83.06 313.45,82.00 313.75,80.96 314.04,79.95 314.34,78.95 314.63,77.97 314.93,77.01 315.22,76.07 315.52,75.15 315.81,74.25 316.11,73.37 316.41,72.50 316.70,71.65 317.00,70.82 317.29,70.00 317.59,69.20 317.88,68.41 318.18,67.64 318.47,66.89 318.77,66.15 319.06,65.42 319.36,64.71 319.65,64.01 319.95,63.33 320.25,62.66 320.54,62.00 320.84,61.35 321.13,60.72 321.43,60.10 321.72,59.49 322.02,58.89 322.31,58.31 322.61,57.73 322.90,57.17 323.20,56.62 323.49,56.07 323.79,55.54 324.09,55.02 324.38,54.51 324.68,54.01 324.97,53.51 325.27,53.03 325.56,52.56 325.86,52.09 326.15,51.63 326.45,51.19 326.74,50.75 327.04,50.31 327.33,49.89 327.63,49.48 327.93,49.07 328.22,48.67 328.52,48.27 328.81,47.89 329.11,47.51 329.40,47.14 329.70,46.77 329.99,46.42 330.29,46.06 330.58,45.72 330.88,45.38 331.17,45.05 331.47,44.72 331.77,44.40 332.06,44.08 332.36,43.78 332.65,43.47 332.95,43.17 333.24,42.88 333.54,42.59 335.01,41.23 336.49,39.98 337.97,38.84 339.44,37.79 340.92,36.83 342.40,35.95 343.88,35.14 345.35,34.40 346.83,33.71 348.31,33.08 349.78,32.49 351.26,31.95 352.74,31.46 354.21,30.99 355.69,30.57 357.17,30.17 358.64,29.80 360.12,29.46 361.60,29.14 363.07,28.85 364.55,28.57 366.03,28.31 367.51,28.08 368.98,27.85 370.46,27.64 371.94,27.45 373.41,27.27 374.89,27.10 376.37,26.94 377.84,26.79 379.32,26.65 380.80,26.52 382.27,26.40 383.75,26.29 385.23,26.18 386.70,26.08 388.18,25.99 389.66,25.90 391.14,25.82 392.61,25.74 394.09,25.67 395.57,25.61 397.04,25.55 398.52,25.49 400.00,25.44 401.47,25.39 402.95,25.35 404.43,25.31 405.90,25.27 407.38,25.24 408.86,25.21 410.33,25.18 411.81,25.16 413.29,25.14 414.77,25.12 416.24,25.11 417.72,25.10 419.20,25.09 420.67,25.09 422.15,25.08 423.63,25.09 425.10,25.09 426.58,25.10 428.06,25.11 429.53,25.12 431.01,25.14 432.49,25.16 433.96,25.18 435.44,25.21 436.92,25.24 438.40,25.27 439.87,25.31 441.35,25.35 442.83,25.39 444.30,25.44 445.78,25.50 447.26,25.55 448.73,25.62 450.21,25.68 451.69,25.76 453.16,25.83 454.64,25.92 456.12,26.01 457.59,26.10 459.07,26.21 460.55,26.32 462.03,26.44 463.50,26.56 464.98,26.70 466.46,26.84 467.93,27.00 469.41,27.16 470.89,27.34 472.36,27.53 473.84,27.73 475.32,27.95 476.79,28.18 478.27,28.43 479.75,28.70 481.22,28.99 482.70,29.30 484.18,29.64 485.66,29.99 487.13,30.38 488.61,30.80 490.09,31.25 491.56,31.73 493.04,32.26 494.52,32.83 495.99,33.44 497.47,34.11 498.95,34.83 500.42,35.61 501.90,36.47 503.38,37.39 504.85,38.40 506.33,39.49 507.81,40.69 509.29,41.99 510.76,43.42 511.06,43.72 511.35,44.02 511.65,44.33 511.94,44.65 512.24,44.97 512.53,45.30 512.83,45.63 513.13,45.97 513.42,46.31 513.72,46.67 514.01,47.02 514.31,47.39 514.60,47.76 514.90,48.14 515.19,48.52 515.49,48.92 515.78,49.31 516.08,49.72 516.37,50.13 516.67,50.56 516.97,50.98 517.26,51.42 517.56,51.87 517.85,52.32 518.15,52.78 518.44,53.25 518.74,53.73 519.03,54.22 519.33,54.71 519.62,55.22 519.92,55.73 520.21,56.26 520.51,56.79 520.81,57.34 521.10,57.89 521.40,58.46 521.69,59.03 521.99,59.62 522.28,60.22 522.58,60.83 522.87,61.45 523.17,62.08 523.46,62.72 523.76,63.38 524.05,64.04 524.35,64.72 524.65,65.42 524.94,66.12 525.24,66.84 525.53,67.58 525.83,68.32 526.12,69.09 526.42,69.86 526.71,70.65 527.01,71.46 527.30,72.28 527.60,73.11 527.89,73.97 528.19,74.84 528.48,75.72 528.78,76.62 529.08,77.54 529.37,78.48 529.67,79.44 529.96,80.41 530.26,81.40 530.55,82.41 530.85,83.44 531.14,84.49 531.44,85.56 531.73,86.65 532.03,87.77 532.32,88.90 532.62,90.05 532.92,91.23 533.21,92.43 533.51,93.66 533.80,94.90 534.10,96.17 534.39,97.47 534.69,98.79 534.98,100.14 535.28,101.51 535.57,102.91 535.87,104.33 536.16,105.79 536.46,107.27 536.76,108.78 537.05,110.32 537.35,111.89 537.64,113.49 537.94,115.12 538.23,116.78 538.53,118.48 538.82,120.20 539.12,121.97 539.41,123.76 539.71,125.59 540.00,127.46 540.30,129.36" fill="none" stroke="#f62a2a" stroke-width="1.35"/>
<text x="304.00" y="141.20" font-size="6.5" text-anchor="middle">-2000</text>
<text x="333.54" y="141.20" font-size="6.5" text-anchor="middle">-1500</text>
<text x="363.07" y="141.20" font-size="6.5" text-anchor="middle">-1000</text>
<text x="392.61" y="141.20" font-size="6.5" text-anchor="middle">-500</text>
<text x="422.15" y="141.20" font-size="6.5" text-anchor="middle">0</text>
<text x="451.69" y="141.20" font-size="6.5" text-anchor="middle">500</text>
<text x="481.22" y="141.20" font-size="6.5" text-anchor="middle">1000</text>
<text x="510.76" y="141.20" font-size="6.5" text-anchor="middle">1500</text>
<text x="540.30" y="141.20" font-size="6.5" text-anchor="middle">2000</text>
<text x="301.80" y="135.40" font-size="6.5" text-anchor="end">0</text>
<text x="301.80" y="122.01" font-size="6.5" text-anchor="end">0.2</text>
<text x="301.80" y="108.62" font-size="6.5" text-anchor="end">0.4</text>
<text x="301.80" y="95.23" font-size="6.5" text-anchor="end">0.6</text>
<text x="301.80" y="81.84" font-size="6.5" text-anchor="end">0.8</text>
<text x="301.80" y="68.46" font-size="6.5" text-anchor="end">1</text>
<text x="301.80" y="55.07" font-size="6.5" text-anchor="end">1.2</text>
<text x="301.80" y="41.68" font-size="6.5" text-anchor="end">1.4</text>
<text x="301.80" y="28.29" font-size="6.5" text-anchor="end">1.6</text>
<text x="301.80" y="14.90" font-size="6.5" text-anchor="end">1.8</text>
<text x="304.00" y="11.00" font-size="8">×</text>
<text x="309.40" y="10.70" font-size="6.6">10</text>
<text x="316.00" y="7.10" font-size="4.6">-4</text>
<text x="422.15" y="149.50" font-size="7.2" style="stroke-width:0.1px" text-anchor="middle">Distance from the midspan (mm)</text>
<text transform="translate(291.60,72.65) rotate(-90)" font-size="7.3" style="stroke-width:0.1px" text-anchor="middle">Concrete strain</text>
<rect x="383.80" y="103.30" width="75.6" height="16.6" fill="#fff" stroke="#d8d8d8" stroke-width="0.6"/>
<line x1="384.60" y1="106.40" x2="392.40" y2="106.40" stroke="#7fd0f2" stroke-width="0.8"/>
<circle cx="388.50" cy="106.40" r="0.9" fill="#7fd0f2"/>
<text x="393.40" y="107.90" font-size="4.45" style="stroke-width:0.08px">Experimental data from Nanni et al.</text>
<line x1="384.60" y1="111.30" x2="392.40" y2="111.30" stroke="#2a2af4" stroke-width="1.3"/>
<text x="393.40" y="112.80" font-size="4.45" style="stroke-width:0.08px">FE model with coarse mesh</text>
<line x1="384.60" y1="116.20" x2="392.40" y2="116.20" stroke="#f62a2a" stroke-width="1.3"/>
<text x="393.40" y="117.70" font-size="4.45" style="stroke-width:0.08px">FE model with fine mesh</text>
<text x="483.00" y="114.90" font-size="6.5"><tspan font-style="italic">μ</tspan> = 0.20</text>
<line x1="20.30" y1="174.60" x2="20.30" y2="295.30" stroke="#f5f5f5" stroke-width="0.7"/>
<line x1="49.84" y1="174.60" x2="49.84" y2="295.30" stroke="#f5f5f5" stroke-width="0.7"/>
<line x1="79.38" y1="174.60" x2="79.38" y2="295.30" stroke="#f5f5f5" stroke-width="0.7"/>
<line x1="108.91" y1="174.60" x2="108.91" y2="295.30" stroke="#f5f5f5" stroke-width="0.7"/>
<line x1="138.45" y1="174.60" x2="138.45" y2="295.30" stroke="#f5f5f5" stroke-width="0.7"/>
<line x1="167.99" y1="174.60" x2="167.99" y2="295.30" stroke="#f5f5f5" stroke-width="0.7"/>
<line x1="197.53" y1="174.60" x2="197.53" y2="295.30" stroke="#f5f5f5" stroke-width="0.7"/>
<line x1="227.06" y1="174.60" x2="227.06" y2="295.30" stroke="#f5f5f5" stroke-width="0.7"/>
<line x1="256.60" y1="174.60" x2="256.60" y2="295.30" stroke="#f5f5f5" stroke-width="0.7"/>
<line x1="20.30" y1="295.30" x2="256.60" y2="295.30" stroke="#f5f5f5" stroke-width="0.7"/>
<line x1="20.30" y1="281.89" x2="256.60" y2="281.89" stroke="#f5f5f5" stroke-width="0.7"/>
<line x1="20.30" y1="268.48" x2="256.60" y2="268.48" stroke="#f5f5f5" stroke-width="0.7"/>
<line x1="20.30" y1="255.07" x2="256.60" y2="255.07" stroke="#f5f5f5" stroke-width="0.7"/>
<line x1="20.30" y1="241.66" x2="256.60" y2="241.66" stroke="#f5f5f5" stroke-width="0.7"/>
<line x1="20.30" y1="228.24" x2="256.60" y2="228.24" stroke="#f5f5f5" stroke-width="0.7"/>
<line x1="20.30" y1="214.83" x2="256.60" y2="214.83" stroke="#f5f5f5" stroke-width="0.7"/>
<line x1="20.30" y1="201.42" x2="256.60" y2="201.42" stroke="#f5f5f5" stroke-width="0.7"/>
<line x1="20.30" y1="188.01" x2="256.60" y2="188.01" stroke="#f5f5f5" stroke-width="0.7"/>
<line x1="20.30" y1="174.60" x2="256.60" y2="174.60" stroke="#f5f5f5" stroke-width="0.7"/>
<rect x="20.30" y="174.60" width="236.30" height="120.70" fill="none" stroke="#dcdcdc" stroke-width="0.8"/>
<line x1="20.30" y1="295.30" x2="20.30" y2="292.90" stroke="#cfcfcf" stroke-width="0.7"/>
<line x1="20.30" y1="174.60" x2="20.30" y2="177.00" stroke="#cfcfcf" stroke-width="0.7"/>
<line x1="49.84" y1="295.30" x2="49.84" y2="292.90" stroke="#cfcfcf" stroke-width="0.7"/>
<line x1="49.84" y1="174.60" x2="49.84" y2="177.00" stroke="#cfcfcf" stroke-width="0.7"/>
<line x1="79.38" y1="295.30" x2="79.38" y2="292.90" stroke="#cfcfcf" stroke-width="0.7"/>
<line x1="79.38" y1="174.60" x2="79.38" y2="177.00" stroke="#cfcfcf" stroke-width="0.7"/>
<line x1="108.91" y1="295.30" x2="108.91" y2="292.90" stroke="#cfcfcf" stroke-width="0.7"/>
<line x1="108.91" y1="174.60" x2="108.91" y2="177.00" stroke="#cfcfcf" stroke-width="0.7"/>
<line x1="138.45" y1="295.30" x2="138.45" y2="292.90" stroke="#cfcfcf" stroke-width="0.7"/>
<line x1="138.45" y1="174.60" x2="138.45" y2="177.00" stroke="#cfcfcf" stroke-width="0.7"/>
<line x1="167.99" y1="295.30" x2="167.99" y2="292.90" stroke="#cfcfcf" stroke-width="0.7"/>
<line x1="167.99" y1="174.60" x2="167.99" y2="177.00" stroke="#cfcfcf" stroke-width="0.7"/>
<line x1="197.53" y1="295.30" x2="197.53" y2="292.90" stroke="#cfcfcf" stroke-width="0.7"/>
<line x1="197.53" y1="174.60" x2="197.53" y2="177.00" stroke="#cfcfcf" stroke-width="0.7"/>
<line x1="227.06" y1="295.30" x2="227.06" y2="292.90" stroke="#cfcfcf" stroke-width="0.7"/>
<line x1="227.06" y1="174.60" x2="227.06" y2="177.00" stroke="#cfcfcf" stroke-width="0.7"/>
<line x1="256.60" y1="295.30" x2="256.60" y2="292.90" stroke="#cfcfcf" stroke-width="0.7"/>
<line x1="256.60" y1="174.60" x2="256.60" y2="177.00" stroke="#cfcfcf" stroke-width="0.7"/>
<line x1="20.30" y1="295.30" x2="22.70" y2="295.30" stroke="#cfcfcf" stroke-width="0.7"/>
<line x1="256.60" y1="295.30" x2="254.20" y2="295.30" stroke="#cfcfcf" stroke-width="0.7"/>
<line x1="20.30" y1="281.89" x2="22.70" y2="281.89" stroke="#cfcfcf" stroke-width="0.7"/>
<line x1="256.60" y1="281.89" x2="254.20" y2="281.89" stroke="#cfcfcf" stroke-width="0.7"/>
<line x1="20.30" y1="268.48" x2="22.70" y2="268.48" stroke="#cfcfcf" stroke-width="0.7"/>
<line x1="256.60" y1="268.48" x2="254.20" y2="268.48" stroke="#cfcfcf" stroke-width="0.7"/>
<line x1="20.30" y1="255.07" x2="22.70" y2="255.07" stroke="#cfcfcf" stroke-width="0.7"/>
<line x1="256.60" y1="255.07" x2="254.20" y2="255.07" stroke="#cfcfcf" stroke-width="0.7"/>
<line x1="20.30" y1="241.66" x2="22.70" y2="241.66" stroke="#cfcfcf" stroke-width="0.7"/>
<line x1="256.60" y1="241.66" x2="254.20" y2="241.66" stroke="#cfcfcf" stroke-width="0.7"/>
<line x1="20.30" y1="228.24" x2="22.70" y2="228.24" stroke="#cfcfcf" stroke-width="0.7"/>
<line x1="256.60" y1="228.24" x2="254.20" y2="228.24" stroke="#cfcfcf" stroke-width="0.7"/>
<line x1="20.30" y1="214.83" x2="22.70" y2="214.83" stroke="#cfcfcf" stroke-width="0.7"/>
<line x1="256.60" y1="214.83" x2="254.20" y2="214.83" stroke="#cfcfcf" stroke-width="0.7"/>
<line x1="20.30" y1="201.42" x2="22.70" y2="201.42" stroke="#cfcfcf" stroke-width="0.7"/>
<line x1="256.60" y1="201.42" x2="254.20" y2="201.42" stroke="#cfcfcf" stroke-width="0.7"/>
<line x1="20.30" y1="188.01" x2="22.70" y2="188.01" stroke="#cfcfcf" stroke-width="0.7"/>
<line x1="256.60" y1="188.01" x2="254.20" y2="188.01" stroke="#cfcfcf" stroke-width="0.7"/>
<line x1="20.30" y1="174.60" x2="22.70" y2="174.60" stroke="#cfcfcf" stroke-width="0.7"/>
<line x1="256.60" y1="174.60" x2="254.20" y2="174.60" stroke="#cfcfcf" stroke-width="0.7"/>
<polyline points="20.30,295.30 23.25,275.18 26.21,253.06 29.16,245.68 32.12,230.93 35.07,225.56 38.02,221.54 40.98,214.16 43.93,210.14 46.88,199.14 49.84,191.10 52.79,193.64 55.75,192.24 58.70,189.42 61.65,193.84 64.61,192.24 67.56,189.08 70.51,192.50 73.47,194.72 76.42,195.79 200.48,190.43 203.43,190.43 206.39,188.41 209.34,196.12 212.29,195.32 215.25,184.32 218.20,187.94 221.16,181.51 224.11,185.73 227.06,189.82 230.02,179.50 232.97,185.73 235.92,198.14 238.88,206.92 241.83,216.44 244.79,234.95 247.74,249.70 250.69,263.11 253.65,278.54 256.60,295.30" fill="none" stroke="#a2d9f1" stroke-width="0.65"/>
<circle cx="20.30" cy="295.30" r="1.0" fill="#7cc9ea"/>
<circle cx="23.25" cy="275.18" r="1.0" fill="#7cc9ea"/>
<circle cx="26.21" cy="253.06" r="1.0" fill="#7cc9ea"/>
<circle cx="29.16" cy="245.68" r="1.0" fill="#7cc9ea"/>
<circle cx="32.12" cy="230.93" r="1.0" fill="#7cc9ea"/>
<circle cx="35.07" cy="225.56" r="1.0" fill="#7cc9ea"/>
<circle cx="38.02" cy="221.54" r="1.0" fill="#7cc9ea"/>
<circle cx="40.98" cy="214.16" r="1.0" fill="#7cc9ea"/>
<circle cx="43.93" cy="210.14" r="1.0" fill="#7cc9ea"/>
<circle cx="46.88" cy="199.14" r="1.0" fill="#7cc9ea"/>
<circle cx="49.84" cy="191.10" r="1.0" fill="#7cc9ea"/>
<circle cx="52.79" cy="193.64" r="1.0" fill="#7cc9ea"/>
<circle cx="55.75" cy="192.24" r="1.0" fill="#7cc9ea"/>
<circle cx="58.70" cy="189.42" r="1.0" fill="#7cc9ea"/>
<circle cx="61.65" cy="193.84" r="1.0" fill="#7cc9ea"/>
<circle cx="64.61" cy="192.24" r="1.0" fill="#7cc9ea"/>
<circle cx="67.56" cy="189.08" r="1.0" fill="#7cc9ea"/>
<circle cx="70.51" cy="192.50" r="1.0" fill="#7cc9ea"/>
<circle cx="73.47" cy="194.72" r="1.0" fill="#7cc9ea"/>
<circle cx="76.42" cy="195.79" r="1.0" fill="#7cc9ea"/>
<circle cx="200.48" cy="190.43" r="1.0" fill="#7cc9ea"/>
<circle cx="203.43" cy="190.43" r="1.0" fill="#7cc9ea"/>
<circle cx="206.39" cy="188.41" r="1.0" fill="#7cc9ea"/>
<circle cx="209.34" cy="196.12" r="1.0" fill="#7cc9ea"/>
<circle cx="212.29" cy="195.32" r="1.0" fill="#7cc9ea"/>
<circle cx="215.25" cy="184.32" r="1.0" fill="#7cc9ea"/>
<circle cx="218.20" cy="187.94" r="1.0" fill="#7cc9ea"/>
<circle cx="221.16" cy="181.51" r="1.0" fill="#7cc9ea"/>
<circle cx="224.11" cy="185.73" r="1.0" fill="#7cc9ea"/>
<circle cx="227.06" cy="189.82" r="1.0" fill="#7cc9ea"/>
<circle cx="230.02" cy="179.50" r="1.0" fill="#7cc9ea"/>
<circle cx="232.97" cy="185.73" r="1.0" fill="#7cc9ea"/>
<circle cx="235.92" cy="198.14" r="1.0" fill="#7cc9ea"/>
<circle cx="238.88" cy="206.92" r="1.0" fill="#7cc9ea"/>
<circle cx="241.83" cy="216.44" r="1.0" fill="#7cc9ea"/>
<circle cx="244.79" cy="234.95" r="1.0" fill="#7cc9ea"/>
<circle cx="247.74" cy="249.70" r="1.0" fill="#7cc9ea"/>
<circle cx="250.69" cy="263.11" r="1.0" fill="#7cc9ea"/>
<circle cx="253.65" cy="278.54" r="1.0" fill="#7cc9ea"/>
<circle cx="256.60" cy="295.30" r="1.0" fill="#7cc9ea"/>
<polyline points="20.30,292.89 20.60,290.76 20.89,288.68 21.19,286.65 21.48,284.67 21.78,282.74 22.07,280.86 22.37,279.02 22.66,277.23 22.96,275.48 23.25,273.77 23.55,272.11 23.84,270.48 24.14,268.89 24.44,267.34 24.73,265.83 25.03,264.35 25.32,262.91 25.62,261.50 25.91,260.12 26.21,258.78 26.50,257.47 26.80,256.19 27.09,254.94 27.39,253.72 27.68,252.52 27.98,251.36 28.28,250.22 28.57,249.11 28.87,248.02 29.16,246.96 29.46,245.92 29.75,244.91 30.05,243.92 30.34,242.95 30.64,242.01 30.93,241.08 31.23,240.18 31.52,239.30 31.82,238.43 32.12,237.59 32.41,236.76 32.71,235.96 33.00,235.17 33.30,234.40 33.59,233.64 33.89,232.90 34.18,232.18 34.48,231.47 34.77,230.78 35.07,230.11 35.36,229.44 35.66,228.80 35.95,228.16 36.25,227.54 36.55,226.94 36.84,226.34 37.14,225.76 37.43,225.19 37.73,224.63 38.02,224.09 38.32,223.55 38.61,223.03 38.91,222.52 39.20,222.01 39.50,221.52 39.79,221.04 40.09,220.57 40.39,220.11 40.68,219.65 40.98,219.21 41.27,218.77 41.57,218.34 41.86,217.93 42.16,217.52 42.45,217.11 42.75,216.72 43.04,216.33 43.34,215.95 43.63,215.58 43.93,215.21 44.23,214.86 44.52,214.50 44.82,214.16 45.11,213.82 45.41,213.49 45.70,213.16 46.00,212.84 46.29,212.53 46.59,212.22 46.88,211.92 47.18,211.62 47.47,211.33 47.77,211.04 48.07,210.76 48.36,210.48 48.66,210.21 48.95,209.94 49.25,209.68 49.54,209.42 49.84,209.16 51.31,207.96 52.79,206.85 54.27,205.82 55.75,204.87 57.22,203.99 58.70,203.17 60.18,202.41 61.65,201.70 63.13,201.04 64.61,200.41 66.08,199.83 67.56,199.27 69.04,198.75 70.51,198.26 71.99,197.80 73.47,197.36 74.94,196.94 76.42,196.54 77.90,196.17 79.38,195.81 80.85,195.47 82.33,195.14 83.81,194.83 85.28,194.54 86.76,194.26 88.24,193.99 89.71,193.73 91.19,193.49 92.67,193.25 94.14,193.03 95.62,192.82 97.10,192.62 98.57,192.42 100.05,192.24 101.53,192.06 103.00,191.90 104.48,191.74 105.96,191.59 107.44,191.45 108.91,191.32 110.39,191.19 111.87,191.07 113.34,190.96 114.82,190.86 116.30,190.76 117.77,190.67 119.25,190.58 120.73,190.51 122.20,190.43 123.68,190.37 125.16,190.31 126.64,190.26 128.11,190.22 129.59,190.18 131.07,190.14 132.54,190.12 134.02,190.09 135.50,190.08 136.97,190.07 138.45,190.07 139.93,190.07 141.40,190.08 142.88,190.09 144.36,190.12 145.83,190.14 147.31,190.18 148.79,190.22 150.27,190.26 151.74,190.31 153.22,190.37 154.70,190.44 156.17,190.51 157.65,190.59 159.13,190.68 160.60,190.77 162.08,190.87 163.56,190.97 165.03,191.09 166.51,191.21 167.99,191.34 169.46,191.48 170.94,191.62 172.42,191.78 173.90,191.94 175.37,192.11 176.85,192.29 178.33,192.48 179.80,192.68 181.28,192.89 182.76,193.11 184.23,193.34 185.71,193.58 187.19,193.83 188.66,194.10 190.14,194.38 191.62,194.67 193.09,194.97 194.57,195.29 196.05,195.63 197.53,195.99 199.00,196.36 200.48,196.75 201.96,197.16 203.43,197.59 204.91,198.05 206.39,198.54 207.86,199.05 209.34,199.59 210.82,200.16 212.29,200.77 213.77,201.42 215.25,202.12 216.72,202.86 218.20,203.65 219.68,204.50 221.16,205.42 222.63,206.41 224.11,207.48 225.59,208.63 227.06,209.89 227.36,210.15 227.65,210.42 227.95,210.70 228.24,210.97 228.54,211.26 228.83,211.54 229.13,211.84 229.43,212.14 229.72,212.44 230.02,212.75 230.31,213.06 230.61,213.38 230.90,213.71 231.20,214.04 231.49,214.38 231.79,214.72 232.08,215.07 232.38,215.43 232.67,215.79 232.97,216.16 233.27,216.54 233.56,216.93 233.86,217.32 234.15,217.72 234.45,218.12 234.74,218.54 235.04,218.96 235.33,219.39 235.63,219.83 235.92,220.28 236.22,220.74 236.51,221.20 236.81,221.68 237.11,222.16 237.40,222.66 237.70,223.16 237.99,223.68 238.29,224.20 238.58,224.74 238.88,225.29 239.17,225.84 239.47,226.41 239.76,226.99 240.06,227.59 240.35,228.19 240.65,228.81 240.95,229.44 241.24,230.08 241.54,230.74 241.83,231.41 242.13,232.10 242.42,232.80 242.72,233.51 243.01,234.24 243.31,234.99 243.60,235.75 243.90,236.53 244.19,237.32 244.49,238.14 244.79,238.97 245.08,239.81 245.38,240.68 245.67,241.56 245.97,242.47 246.26,243.39 246.56,244.34 246.85,245.30 247.15,246.29 247.44,247.30 247.74,248.33 248.03,249.38 248.33,250.46 248.62,251.56 248.92,252.69 249.22,253.84 249.51,255.01 249.81,256.22 250.10,257.45 250.40,258.71 250.69,259.99 250.99,261.31 251.28,262.65 251.58,264.03 251.87,265.44 252.17,266.88 252.46,268.35 252.76,269.85 253.06,271.39 253.35,272.97 253.65,274.58 253.94,276.23 254.24,277.91 254.53,279.64 254.83,281.41 255.12,283.21 255.42,285.06 255.71,286.95 256.01,288.88 256.30,290.86 256.60,292.89" fill="none" stroke="#2a2af4" stroke-width="1.35"/>
<polyline points="20.30,292.89 20.60,290.57 20.89,288.31 21.19,286.11 21.48,283.95 21.78,281.85 22.07,279.81 22.37,277.81 22.66,275.86 22.96,273.95 23.25,272.09 23.55,270.28 23.84,268.51 24.14,266.78 24.44,265.09 24.73,263.44 25.03,261.84 25.32,260.27 25.62,258.73 25.91,257.24 26.21,255.78 26.50,254.35 26.80,252.95 27.09,251.59 27.39,250.26 27.68,248.96 27.98,247.70 28.28,246.46 28.57,245.25 28.87,244.06 29.16,242.91 29.46,241.78 29.75,240.68 30.05,239.60 30.34,238.55 30.64,237.52 30.93,236.51 31.23,235.53 31.52,234.57 31.82,233.63 32.12,232.72 32.41,231.82 32.71,230.94 33.00,230.09 33.30,229.25 33.59,228.43 33.89,227.63 34.18,226.85 34.48,226.08 34.77,225.33 35.07,224.60 35.36,223.88 35.66,223.18 35.95,222.50 36.25,221.82 36.55,221.17 36.84,220.53 37.14,219.90 37.43,219.29 37.73,218.68 38.02,218.10 38.32,217.52 38.61,216.96 38.91,216.41 39.20,215.87 39.50,215.34 39.79,214.82 40.09,214.31 40.39,213.82 40.68,213.33 40.98,212.86 41.27,212.39 41.57,211.94 41.86,211.49 42.16,211.06 42.45,210.63 42.75,210.21 43.04,209.80 43.34,209.40 43.63,209.00 43.93,208.62 44.23,208.24 44.52,207.87 44.82,207.51 45.11,207.15 45.41,206.80 45.70,206.46 46.00,206.13 46.29,205.80 46.59,205.48 46.88,205.16 47.18,204.85 47.47,204.55 47.77,204.25 48.07,203.96 48.36,203.67 48.66,203.39 48.95,203.12 49.25,202.85 49.54,202.59 49.84,202.33 51.31,201.10 52.79,199.99 54.27,198.98 55.75,198.05 57.22,197.21 58.70,196.44 60.18,195.73 61.65,195.08 63.13,194.49 64.61,193.94 66.08,193.44 67.56,192.98 69.04,192.55 70.51,192.15 71.99,191.79 73.47,191.45 74.94,191.14 76.42,190.86 77.90,190.59 79.38,190.34 80.85,190.11 82.33,189.90 83.81,189.70 85.28,189.52 86.76,189.34 88.24,189.19 89.71,189.04 91.19,188.90 92.67,188.77 94.14,188.65 95.62,188.54 97.10,188.44 98.57,188.34 100.05,188.25 101.53,188.17 103.00,188.09 104.48,188.02 105.96,187.95 107.44,187.89 108.91,187.83 110.39,187.78 111.87,187.73 113.34,187.68 114.82,187.64 116.30,187.60 117.77,187.57 119.25,187.53 120.73,187.50 122.20,187.48 123.68,187.45 125.16,187.43 126.64,187.41 128.11,187.40 129.59,187.38 131.07,187.37 132.54,187.36 134.02,187.35 135.50,187.35 136.97,187.35 138.45,187.35 139.93,187.35 141.40,187.35 142.88,187.35 144.36,187.36 145.83,187.37 147.31,187.38 148.79,187.40 150.27,187.41 151.74,187.43 153.22,187.46 154.70,187.48 156.17,187.51 157.65,187.54 159.13,187.57 160.60,187.61 162.08,187.65 163.56,187.69 165.03,187.74 166.51,187.79 167.99,187.84 169.46,187.90 170.94,187.96 172.42,188.03 173.90,188.11 175.37,188.19 176.85,188.28 178.33,188.37 179.80,188.47 181.28,188.58 182.76,188.69 184.23,188.82 185.71,188.95 187.19,189.10 188.66,189.25 190.14,189.42 191.62,189.60 193.09,189.79 194.57,190.00 196.05,190.22 197.53,190.46 199.00,190.72 200.48,191.00 201.96,191.31 203.43,191.63 204.91,191.99 206.39,192.37 207.86,192.79 209.34,193.24 210.82,193.73 212.29,194.26 213.77,194.83 215.25,195.46 216.72,196.14 218.20,196.88 219.68,197.70 221.16,198.58 222.63,199.56 224.11,200.62 225.59,201.79 227.06,203.07 227.36,203.34 227.65,203.62 227.95,203.90 228.24,204.18 228.54,204.48 228.83,204.77 229.13,205.08 229.43,205.39 229.72,205.70 230.02,206.03 230.31,206.36 230.61,206.69 230.90,207.03 231.20,207.38 231.49,207.74 231.79,208.10 232.08,208.47 232.38,208.84 232.67,209.23 232.97,209.62 233.27,210.02 233.56,210.43 233.86,210.85 234.15,211.27 234.45,211.70 234.74,212.15 235.04,212.60 235.33,213.06 235.63,213.53 235.92,214.01 236.22,214.50 236.51,215.00 236.81,215.51 237.11,216.03 237.40,216.56 237.70,217.10 237.99,217.66 238.29,218.22 238.58,218.80 238.88,219.39 239.17,219.99 239.47,220.60 239.76,221.23 240.06,221.87 240.35,222.53 240.65,223.19 240.95,223.88 241.24,224.57 241.54,225.29 241.83,226.01 242.13,226.76 242.42,227.52 242.72,228.29 243.01,229.08 243.31,229.89 243.60,230.72 243.90,231.57 244.19,232.43 244.49,233.31 244.79,234.21 245.08,235.13 245.38,236.08 245.67,237.04 245.97,238.02 246.26,239.03 246.56,240.05 246.85,241.10 247.15,242.18 247.44,243.28 247.74,244.40 248.03,245.54 248.33,246.72 248.62,247.91 248.92,249.14 249.22,250.39 249.51,251.67 249.81,252.98 250.10,254.32 250.40,255.69 250.69,257.09 250.99,258.52 251.28,259.99 251.58,261.49 251.87,263.02 252.17,264.59 252.46,266.19 252.76,267.83 253.06,269.50 253.35,271.22 253.65,272.97 253.94,274.76 254.24,276.60 254.53,278.48 254.83,280.40 255.12,282.36 255.42,284.37 255.71,286.43 256.01,288.53 256.30,290.68 256.60,292.89" fill="none" stroke="#f62a2a" stroke-width="1.35"/>
<text x="20.30" y="303.80" font-size="6.5" text-anchor="middle">-2000</text>
<text x="49.84" y="303.80" font-size="6.5" text-anchor="middle">-1500</text>
<text x="79.38" y="303.80" font-size="6.5" text-anchor="middle">-1000</text>
<text x="108.91" y="303.80" font-size="6.5" text-anchor="middle">-500</text>
<text x="138.45" y="303.80" font-size="6.5" text-anchor="middle">0</text>
<text x="167.99" y="303.80" font-size="6.5" text-anchor="middle">500</text>
<text x="197.53" y="303.80" font-size="6.5" text-anchor="middle">1000</text>
<text x="227.06" y="303.80" font-size="6.5" text-anchor="middle">1500</text>
<text x="256.60" y="303.80" font-size="6.5" text-anchor="middle">2000</text>
<text x="18.10" y="298.00" font-size="6.5" text-anchor="end">0</text>
<text x="18.10" y="284.59" font-size="6.5" text-anchor="end">0.2</text>
<text x="18.10" y="271.18" font-size="6.5" text-anchor="end">0.4</text>
<text x="18.10" y="257.77" font-size="6.5" text-anchor="end">0.6</text>
<text x="18.10" y="244.36" font-size="6.5" text-anchor="end">0.8</text>
<text x="18.10" y="230.94" font-size="6.5" text-anchor="end">1</text>
<text x="18.10" y="217.53" font-size="6.5" text-anchor="end">1.2</text>
<text x="18.10" y="204.12" font-size="6.5" text-anchor="end">1.4</text>
<text x="18.10" y="190.71" font-size="6.5" text-anchor="end">1.6</text>
<text x="18.10" y="177.30" font-size="6.5" text-anchor="end">1.8</text>
<text x="20.30" y="173.40" font-size="8">×</text>
<text x="25.70" y="173.10" font-size="6.6">10</text>
<text x="32.30" y="169.50" font-size="4.6">-4</text>
<text x="138.45" y="312.10" font-size="7.2" style="stroke-width:0.1px" text-anchor="middle">Distance from the midspan (mm)</text>
<text transform="translate(7.90,235.15) rotate(-90)" font-size="7.3" style="stroke-width:0.1px" text-anchor="middle">Concrete strain</text>
<rect x="100.40" y="266.10" width="75.6" height="16.6" fill="#fff" stroke="#d8d8d8" stroke-width="0.6"/>
<line x1="101.20" y1="269.20" x2="109.00" y2="269.20" stroke="#7fd0f2" stroke-width="0.8"/>
<circle cx="105.10" cy="269.20" r="0.9" fill="#7fd0f2"/>
<text x="110.00" y="270.70" font-size="4.45" style="stroke-width:0.08px">Experimental data from Nanni et al.</text>
<line x1="101.20" y1="274.10" x2="109.00" y2="274.10" stroke="#2a2af4" stroke-width="1.3"/>
<text x="110.00" y="275.60" font-size="4.45" style="stroke-width:0.08px">FE model with coarse mesh</text>
<line x1="101.20" y1="279.00" x2="109.00" y2="279.00" stroke="#f62a2a" stroke-width="1.3"/>
<text x="110.00" y="280.50" font-size="4.45" style="stroke-width:0.08px">FE model with fine mesh</text>
<text x="199.30" y="277.80" font-size="6.5"><tspan font-style="italic">μ</tspan> = 0.23</text>
<line x1="304.00" y1="174.60" x2="304.00" y2="295.30" stroke="#f5f5f5" stroke-width="0.7"/>
<line x1="333.54" y1="174.60" x2="333.54" y2="295.30" stroke="#f5f5f5" stroke-width="0.7"/>
<line x1="363.07" y1="174.60" x2="363.07" y2="295.30" stroke="#f5f5f5" stroke-width="0.7"/>
<line x1="392.61" y1="174.60" x2="392.61" y2="295.30" stroke="#f5f5f5" stroke-width="0.7"/>
<line x1="422.15" y1="174.60" x2="422.15" y2="295.30" stroke="#f5f5f5" stroke-width="0.7"/>
<line x1="451.69" y1="174.60" x2="451.69" y2="295.30" stroke="#f5f5f5" stroke-width="0.7"/>
<line x1="481.22" y1="174.60" x2="481.22" y2="295.30" stroke="#f5f5f5" stroke-width="0.7"/>
<line x1="510.76" y1="174.60" x2="510.76" y2="295.30" stroke="#f5f5f5" stroke-width="0.7"/>
<line x1="540.30" y1="174.60" x2="540.30" y2="295.30" stroke="#f5f5f5" stroke-width="0.7"/>
<line x1="304.00" y1="295.30" x2="540.30" y2="295.30" stroke="#f5f5f5" stroke-width="0.7"/>
<line x1="304.00" y1="281.89" x2="540.30" y2="281.89" stroke="#f5f5f5" stroke-width="0.7"/>
<line x1="304.00" y1="268.48" x2="540.30" y2="268.48" stroke="#f5f5f5" stroke-width="0.7"/>
<line x1="304.00" y1="255.07" x2="540.30" y2="255.07" stroke="#f5f5f5" stroke-width="0.7"/>
<line x1="304.00" y1="241.66" x2="540.30" y2="241.66" stroke="#f5f5f5" stroke-width="0.7"/>
<line x1="304.00" y1="228.24" x2="540.30" y2="228.24" stroke="#f5f5f5" stroke-width="0.7"/>
<line x1="304.00" y1="214.83" x2="540.30" y2="214.83" stroke="#f5f5f5" stroke-width="0.7"/>
<line x1="304.00" y1="201.42" x2="540.30" y2="201.42" stroke="#f5f5f5" stroke-width="0.7"/>
<line x1="304.00" y1="188.01" x2="540.30" y2="188.01" stroke="#f5f5f5" stroke-width="0.7"/>
<line x1="304.00" y1="174.60" x2="540.30" y2="174.60" stroke="#f5f5f5" stroke-width="0.7"/>
<rect x="304.00" y="174.60" width="236.30" height="120.70" fill="none" stroke="#dcdcdc" stroke-width="0.8"/>
<line x1="304.00" y1="295.30" x2="304.00" y2="292.90" stroke="#cfcfcf" stroke-width="0.7"/>
<line x1="304.00" y1="174.60" x2="304.00" y2="177.00" stroke="#cfcfcf" stroke-width="0.7"/>
<line x1="333.54" y1="295.30" x2="333.54" y2="292.90" stroke="#cfcfcf" stroke-width="0.7"/>
<line x1="333.54" y1="174.60" x2="333.54" y2="177.00" stroke="#cfcfcf" stroke-width="0.7"/>
<line x1="363.07" y1="295.30" x2="363.07" y2="292.90" stroke="#cfcfcf" stroke-width="0.7"/>
<line x1="363.07" y1="174.60" x2="363.07" y2="177.00" stroke="#cfcfcf" stroke-width="0.7"/>
<line x1="392.61" y1="295.30" x2="392.61" y2="292.90" stroke="#cfcfcf" stroke-width="0.7"/>
<line x1="392.61" y1="174.60" x2="392.61" y2="177.00" stroke="#cfcfcf" stroke-width="0.7"/>
<line x1="422.15" y1="295.30" x2="422.15" y2="292.90" stroke="#cfcfcf" stroke-width="0.7"/>
<line x1="422.15" y1="174.60" x2="422.15" y2="177.00" stroke="#cfcfcf" stroke-width="0.7"/>
<line x1="451.69" y1="295.30" x2="451.69" y2="292.90" stroke="#cfcfcf" stroke-width="0.7"/>
<line x1="451.69" y1="174.60" x2="451.69" y2="177.00" stroke="#cfcfcf" stroke-width="0.7"/>
<line x1="481.22" y1="295.30" x2="481.22" y2="292.90" stroke="#cfcfcf" stroke-width="0.7"/>
<line x1="481.22" y1="174.60" x2="481.22" y2="177.00" stroke="#cfcfcf" stroke-width="0.7"/>
<line x1="510.76" y1="295.30" x2="510.76" y2="292.90" stroke="#cfcfcf" stroke-width="0.7"/>
<line x1="510.76" y1="174.60" x2="510.76" y2="177.00" stroke="#cfcfcf" stroke-width="0.7"/>
<line x1="540.30" y1="295.30" x2="540.30" y2="292.90" stroke="#cfcfcf" stroke-width="0.7"/>
<line x1="540.30" y1="174.60" x2="540.30" y2="177.00" stroke="#cfcfcf" stroke-width="0.7"/>
<line x1="304.00" y1="295.30" x2="306.40" y2="295.30" stroke="#cfcfcf" stroke-width="0.7"/>
<line x1="540.30" y1="295.30" x2="537.90" y2="295.30" stroke="#cfcfcf" stroke-width="0.7"/>
<line x1="304.00" y1="281.89" x2="306.40" y2="281.89" stroke="#cfcfcf" stroke-width="0.7"/>
<line x1="540.30" y1="281.89" x2="537.90" y2="281.89" stroke="#cfcfcf" stroke-width="0.7"/>
<line x1="304.00" y1="268.48" x2="306.40" y2="268.48" stroke="#cfcfcf" stroke-width="0.7"/>
<line x1="540.30" y1="268.48" x2="537.90" y2="268.48" stroke="#cfcfcf" stroke-width="0.7"/>
<line x1="304.00" y1="255.07" x2="306.40" y2="255.07" stroke="#cfcfcf" stroke-width="0.7"/>
<line x1="540.30" y1="255.07" x2="537.90" y2="255.07" stroke="#cfcfcf" stroke-width="0.7"/>
<line x1="304.00" y1="241.66" x2="306.40" y2="241.66" stroke="#cfcfcf" stroke-width="0.7"/>
<line x1="540.30" y1="241.66" x2="537.90" y2="241.66" stroke="#cfcfcf" stroke-width="0.7"/>
<line x1="304.00" y1="228.24" x2="306.40" y2="228.24" stroke="#cfcfcf" stroke-width="0.7"/>
<line x1="540.30" y1="228.24" x2="537.90" y2="228.24" stroke="#cfcfcf" stroke-width="0.7"/>
<line x1="304.00" y1="214.83" x2="306.40" y2="214.83" stroke="#cfcfcf" stroke-width="0.7"/>
<line x1="540.30" y1="214.83" x2="537.90" y2="214.83" stroke="#cfcfcf" stroke-width="0.7"/>
<line x1="304.00" y1="201.42" x2="306.40" y2="201.42" stroke="#cfcfcf" stroke-width="0.7"/>
<line x1="540.30" y1="201.42" x2="537.90" y2="201.42" stroke="#cfcfcf" stroke-width="0.7"/>
<line x1="304.00" y1="188.01" x2="306.40" y2="188.01" stroke="#cfcfcf" stroke-width="0.7"/>
<line x1="540.30" y1="188.01" x2="537.90" y2="188.01" stroke="#cfcfcf" stroke-width="0.7"/>
<line x1="304.00" y1="174.60" x2="306.40" y2="174.60" stroke="#cfcfcf" stroke-width="0.7"/>
<line x1="540.30" y1="174.60" x2="537.90" y2="174.60" stroke="#cfcfcf" stroke-width="0.7"/>
<polyline points="304.00,295.30 306.95,275.18 309.91,253.06 312.86,245.68 315.81,230.93 318.77,225.56 321.72,221.54 324.68,214.16 327.63,210.14 330.58,199.14 333.54,191.10 336.49,193.64 339.44,192.24 342.40,189.42 345.35,193.84 348.31,192.24 351.26,189.08 354.21,192.50 357.17,194.72 360.12,195.79 484.18,190.43 487.13,190.43 490.09,188.41 493.04,196.12 495.99,195.32 498.95,184.32 501.90,187.94 504.85,181.51 507.81,185.73 510.76,189.82 513.72,179.50 516.67,185.73 519.62,198.14 522.58,206.92 525.53,216.44 528.48,234.95 531.44,249.70 534.39,263.11 537.35,278.54 540.30,295.30" fill="none" stroke="#a2d9f1" stroke-width="0.65"/>
<circle cx="304.00" cy="295.30" r="1.0" fill="#7cc9ea"/>
<circle cx="306.95" cy="275.18" r="1.0" fill="#7cc9ea"/>
<circle cx="309.91" cy="253.06" r="1.0" fill="#7cc9ea"/>
<circle cx="312.86" cy="245.68" r="1.0" fill="#7cc9ea"/>
<circle cx="315.81" cy="230.93" r="1.0" fill="#7cc9ea"/>
<circle cx="318.77" cy="225.56" r="1.0" fill="#7cc9ea"/>
<circle cx="321.72" cy="221.54" r="1.0" fill="#7cc9ea"/>
<circle cx="324.68" cy="214.16" r="1.0" fill="#7cc9ea"/>
<circle cx="327.63" cy="210.14" r="1.0" fill="#7cc9ea"/>
<circle cx="330.58" cy="199.14" r="1.0" fill="#7cc9ea"/>
<circle cx="333.54" cy="191.10" r="1.0" fill="#7cc9ea"/>
<circle cx="336.49" cy="193.64" r="1.0" fill="#7cc9ea"/>
<circle cx="339.44" cy="192.24" r="1.0" fill="#7cc9ea"/>
<circle cx="342.40" cy="189.42" r="1.0" fill="#7cc9ea"/>
<circle cx="345.35" cy="193.84" r="1.0" fill="#7cc9ea"/>
<circle cx="348.31" cy="192.24" r="1.0" fill="#7cc9ea"/>
<circle cx="351.26" cy="189.08" r="1.0" fill="#7cc9ea"/>
<circle cx="354.21" cy="192.50" r="1.0" fill="#7cc9ea"/>
<circle cx="357.17" cy="194.72" r="1.0" fill="#7cc9ea"/>
<circle cx="360.12" cy="195.79" r="1.0" fill="#7cc9ea"/>
<circle cx="484.18" cy="190.43" r="1.0" fill="#7cc9ea"/>
<circle cx="487.13" cy="190.43" r="1.0" fill="#7cc9ea"/>
<circle cx="490.09" cy="188.41" r="1.0" fill="#7cc9ea"/>
<circle cx="493.04" cy="196.12" r="1.0" fill="#7cc9ea"/>
<circle cx="495.99" cy="195.32" r="1.0" fill="#7cc9ea"/>
<circle cx="498.95" cy="184.32" r="1.0" fill="#7cc9ea"/>
<circle cx="501.90" cy="187.94" r="1.0" fill="#7cc9ea"/>
<circle cx="504.85" cy="181.51" r="1.0" fill="#7cc9ea"/>
<circle cx="507.81" cy="185.73" r="1.0" fill="#7cc9ea"/>
<circle cx="510.76" cy="189.82" r="1.0" fill="#7cc9ea"/>
<circle cx="513.72" cy="179.50" r="1.0" fill="#7cc9ea"/>
<circle cx="516.67" cy="185.73" r="1.0" fill="#7cc9ea"/>
<circle cx="519.62" cy="198.14" r="1.0" fill="#7cc9ea"/>
<circle cx="522.58" cy="206.92" r="1.0" fill="#7cc9ea"/>
<circle cx="525.53" cy="216.44" r="1.0" fill="#7cc9ea"/>
<circle cx="528.48" cy="234.95" r="1.0" fill="#7cc9ea"/>
<circle cx="531.44" cy="249.70" r="1.0" fill="#7cc9ea"/>
<circle cx="534.39" cy="263.11" r="1.0" fill="#7cc9ea"/>
<circle cx="537.35" cy="278.54" r="1.0" fill="#7cc9ea"/>
<circle cx="540.30" cy="295.30" r="1.0" fill="#7cc9ea"/>
<polyline points="304.00,293.85 304.30,291.40 304.59,289.01 304.89,286.69 305.18,284.43 305.48,282.23 305.77,280.09 306.07,278.01 306.36,275.98 306.66,274.01 306.95,272.09 307.25,270.22 307.54,268.40 307.84,266.63 308.14,264.90 308.43,263.22 308.73,261.59 309.02,260.00 309.32,258.45 309.61,256.94 309.91,255.47 310.20,254.03 310.50,252.64 310.79,251.28 311.09,249.96 311.38,248.67 311.68,247.42 311.98,246.20 312.27,245.01 312.57,243.85 312.86,242.72 313.16,241.62 313.45,240.55 313.75,239.50 314.04,238.48 314.34,237.49 314.63,236.52 314.93,235.58 315.22,234.66 315.52,233.77 315.81,232.90 316.11,232.05 316.41,231.22 316.70,230.41 317.00,229.62 317.29,228.86 317.59,228.11 317.88,227.38 318.18,226.67 318.47,225.97 318.77,225.29 319.06,224.63 319.36,223.99 319.65,223.36 319.95,222.75 320.25,222.15 320.54,221.56 320.84,220.99 321.13,220.44 321.43,219.90 321.72,219.37 322.02,218.85 322.31,218.34 322.61,217.85 322.90,217.37 323.20,216.90 323.49,216.44 323.79,215.99 324.09,215.55 324.38,215.13 324.68,214.71 324.97,214.30 325.27,213.90 325.56,213.51 325.86,213.13 326.15,212.76 326.45,212.39 326.74,212.04 327.04,211.69 327.33,211.35 327.63,211.01 327.93,210.69 328.22,210.37 328.52,210.06 328.81,209.75 329.11,209.46 329.40,209.16 329.70,208.88 329.99,208.60 330.29,208.32 330.58,208.06 330.88,207.79 331.17,207.54 331.47,207.28 331.77,207.04 332.06,206.80 332.36,206.56 332.65,206.33 332.95,206.10 333.24,205.88 333.54,205.66 335.01,204.63 336.49,203.69 337.97,202.83 339.44,202.05 340.92,201.33 342.40,200.67 343.88,200.05 345.35,199.48 346.83,198.95 348.31,198.45 349.78,197.99 351.26,197.55 352.74,197.14 354.21,196.75 355.69,196.38 357.17,196.03 358.64,195.69 360.12,195.38 361.60,195.07 363.07,194.78 364.55,194.50 366.03,194.23 367.51,193.98 368.98,193.73 370.46,193.50 371.94,193.27 373.41,193.05 374.89,192.84 376.37,192.64 377.84,192.45 379.32,192.26 380.80,192.08 382.27,191.91 383.75,191.75 385.23,191.59 386.70,191.44 388.18,191.29 389.66,191.16 391.14,191.03 392.61,190.90 394.09,190.79 395.57,190.67 397.04,190.57 398.52,190.47 400.00,190.38 401.47,190.29 402.95,190.21 404.43,190.13 405.90,190.07 407.38,190.00 408.86,189.95 410.33,189.90 411.81,189.85 413.29,189.81 414.77,189.78 416.24,189.75 417.72,189.73 419.20,189.72 420.67,189.71 422.15,189.71 423.63,189.71 425.10,189.72 426.58,189.73 428.06,189.75 429.53,189.78 431.01,189.81 432.49,189.85 433.96,189.90 435.44,189.95 436.92,190.01 438.40,190.07 439.87,190.14 441.35,190.22 442.83,190.30 444.30,190.39 445.78,190.48 447.26,190.58 448.73,190.69 450.21,190.80 451.69,190.93 453.16,191.05 454.64,191.19 456.12,191.33 457.59,191.48 459.07,191.63 460.55,191.79 462.03,191.96 463.50,192.14 464.98,192.32 466.46,192.51 467.93,192.71 469.41,192.92 470.89,193.14 472.36,193.36 473.84,193.60 475.32,193.84 476.79,194.10 478.27,194.36 479.75,194.64 481.22,194.92 482.70,195.23 484.18,195.54 485.66,195.87 487.13,196.22 488.61,196.58 490.09,196.97 491.56,197.37 493.04,197.80 494.52,198.26 495.99,198.74 497.47,199.26 498.95,199.81 500.42,200.41 501.90,201.05 503.38,201.75 504.85,202.50 506.33,203.32 507.81,204.22 509.29,205.20 510.76,206.28 511.06,206.51 511.35,206.75 511.65,206.99 511.94,207.23 512.24,207.48 512.53,207.73 512.83,207.99 513.13,208.25 513.42,208.52 513.72,208.79 514.01,209.07 514.31,209.36 514.60,209.65 514.90,209.95 515.19,210.26 515.49,210.57 515.78,210.89 516.08,211.21 516.37,211.54 516.67,211.88 516.97,212.23 517.26,212.58 517.56,212.95 517.85,213.32 518.15,213.69 518.44,214.08 518.74,214.48 519.03,214.88 519.33,215.30 519.62,215.72 519.92,216.15 520.21,216.60 520.51,217.05 520.81,217.51 521.10,217.99 521.40,218.47 521.69,218.97 521.99,219.48 522.28,220.00 522.58,220.53 522.87,221.08 523.17,221.63 523.46,222.20 523.76,222.79 524.05,223.39 524.35,224.00 524.65,224.63 524.94,225.27 525.24,225.93 525.53,226.60 525.83,227.30 526.12,228.00 526.42,228.73 526.71,229.47 527.01,230.23 527.30,231.01 527.60,231.81 527.89,232.63 528.19,233.46 528.48,234.32 528.78,235.20 529.08,236.10 529.37,237.03 529.67,237.97 529.96,238.94 530.26,239.94 530.55,240.96 530.85,242.00 531.14,243.07 531.44,244.17 531.73,245.30 532.03,246.45 532.32,247.63 532.62,248.85 532.92,250.09 533.21,251.36 533.51,252.67 533.80,254.01 534.10,255.38 534.39,256.79 534.69,258.23 534.98,259.71 535.28,261.23 535.57,262.79 535.87,264.39 536.16,266.02 536.46,267.70 536.76,269.42 537.05,271.19 537.35,273.00 537.64,274.85 537.94,276.76 538.23,278.71 538.53,280.71 538.82,282.76 539.12,284.87 539.41,287.03 539.71,289.25 540.00,291.52 540.30,293.85" fill="none" stroke="#2a2af4" stroke-width="1.35"/>
<polyline points="304.00,293.82 304.30,290.94 304.59,288.15 304.89,285.44 305.18,282.81 305.48,280.25 305.77,277.77 306.07,275.36 306.36,273.02 306.66,270.75 306.95,268.55 307.25,266.41 307.54,264.33 307.84,262.31 308.14,260.35 308.43,258.45 308.73,256.60 309.02,254.80 309.32,253.06 309.61,251.36 309.91,249.72 310.20,248.12 310.50,246.57 310.79,245.06 311.09,243.59 311.38,242.17 311.68,240.79 311.98,239.44 312.27,238.14 312.57,236.87 312.86,235.63 313.16,234.43 313.45,233.27 313.75,232.14 314.04,231.04 314.34,229.97 314.63,228.93 314.93,227.92 315.22,226.93 315.52,225.98 315.81,225.05 316.11,224.14 316.41,223.26 316.70,222.41 317.00,221.58 317.29,220.77 317.59,219.98 317.88,219.22 318.18,218.47 318.47,217.75 318.77,217.05 319.06,216.36 319.36,215.69 319.65,215.04 319.95,214.41 320.25,213.80 320.54,213.20 320.84,212.62 321.13,212.05 321.43,211.50 321.72,210.96 322.02,210.43 322.31,209.92 322.61,209.43 322.90,208.94 323.20,208.47 323.49,208.01 323.79,207.57 324.09,207.13 324.38,206.71 324.68,206.29 324.97,205.89 325.27,205.50 325.56,205.11 325.86,204.74 326.15,204.38 326.45,204.02 326.74,203.68 327.04,203.34 327.33,203.01 327.63,202.69 327.93,202.37 328.22,202.07 328.52,201.77 328.81,201.48 329.11,201.20 329.40,200.92 329.70,200.65 329.99,200.38 330.29,200.13 330.58,199.87 330.88,199.63 331.17,199.39 331.47,199.15 331.77,198.93 332.06,198.70 332.36,198.48 332.65,198.27 332.95,198.06 333.24,197.86 333.54,197.66 335.01,196.73 336.49,195.89 337.97,195.14 339.44,194.47 340.92,193.86 342.40,193.31 343.88,192.81 345.35,192.36 346.83,191.94 348.31,191.56 349.78,191.21 351.26,190.89 352.74,190.59 354.21,190.32 355.69,190.06 357.17,189.83 358.64,189.61 360.12,189.41 361.60,189.21 363.07,189.04 364.55,188.87 366.03,188.71 367.51,188.57 368.98,188.43 370.46,188.30 371.94,188.18 373.41,188.07 374.89,187.96 376.37,187.86 377.84,187.76 379.32,187.67 380.80,187.59 382.27,187.51 383.75,187.43 385.23,187.36 386.70,187.30 388.18,187.23 389.66,187.17 391.14,187.12 392.61,187.07 394.09,187.02 395.57,186.98 397.04,186.93 398.52,186.89 400.00,186.86 401.47,186.83 402.95,186.79 404.43,186.77 405.90,186.74 407.38,186.72 408.86,186.70 410.33,186.68 411.81,186.66 413.29,186.65 414.77,186.64 416.24,186.63 417.72,186.62 419.20,186.61 420.67,186.61 422.15,186.61 423.63,186.61 425.10,186.61 426.58,186.62 428.06,186.63 429.53,186.64 431.01,186.65 432.49,186.66 433.96,186.68 435.44,186.70 436.92,186.72 438.40,186.74 439.87,186.77 441.35,186.80 442.83,186.83 444.30,186.86 445.78,186.90 447.26,186.94 448.73,186.98 450.21,187.03 451.69,187.08 453.16,187.13 454.64,187.19 456.12,187.25 457.59,187.31 459.07,187.38 460.55,187.45 462.03,187.53 463.50,187.61 464.98,187.70 466.46,187.79 467.93,187.89 469.41,188.00 470.89,188.11 472.36,188.23 473.84,188.36 475.32,188.49 476.79,188.63 478.27,188.79 479.75,188.95 481.22,189.12 482.70,189.31 484.18,189.51 485.66,189.72 487.13,189.95 488.61,190.20 490.09,190.47 491.56,190.76 493.04,191.07 494.52,191.41 495.99,191.78 497.47,192.18 498.95,192.62 500.42,193.10 501.90,193.63 503.38,194.21 504.85,194.86 506.33,195.57 507.81,196.36 509.29,197.25 510.76,198.23 511.06,198.44 511.35,198.66 511.65,198.88 511.94,199.10 512.24,199.33 512.53,199.57 512.83,199.81 513.13,200.06 513.42,200.31 513.72,200.57 514.01,200.83 514.31,201.11 514.60,201.38 514.90,201.67 515.19,201.96 515.49,202.26 515.78,202.56 516.08,202.88 516.37,203.20 516.67,203.53 516.97,203.86 517.26,204.21 517.56,204.56 517.85,204.92 518.15,205.29 518.44,205.68 518.74,206.07 519.03,206.47 519.33,206.88 519.62,207.30 519.92,207.73 520.21,208.17 520.51,208.62 520.81,209.09 521.10,209.57 521.40,210.05 521.69,210.56 521.99,211.07 522.28,211.60 522.58,212.14 522.87,212.70 523.17,213.27 523.46,213.85 523.76,214.46 524.05,215.07 524.35,215.71 524.65,216.36 524.94,217.02 525.24,217.71 525.53,218.41 525.83,219.13 526.12,219.87 526.42,220.63 526.71,221.42 527.01,222.22 527.30,223.04 527.60,223.89 527.89,224.76 528.19,225.65 528.48,226.57 528.78,227.51 529.08,228.47 529.37,229.47 529.67,230.49 529.96,231.54 530.26,232.61 530.55,233.72 530.85,234.86 531.14,236.02 531.44,237.22 531.73,238.46 532.03,239.72 532.32,241.02 532.62,242.36 532.92,243.74 533.21,245.15 533.51,246.60 533.80,248.09 534.10,249.63 534.39,251.20 534.69,252.82 534.98,254.49 535.28,256.20 535.57,257.96 535.87,259.76 536.16,261.62 536.46,263.53 536.76,265.49 537.05,267.51 537.35,269.59 537.64,271.72 537.94,273.91 538.23,276.17 538.53,278.48 538.82,280.87 539.12,283.32 539.41,285.83 539.71,288.42 540.00,291.08 540.30,293.82" fill="none" stroke="#f62a2a" stroke-width="1.35"/>
<text x="304.00" y="303.80" font-size="6.5" text-anchor="middle">-2000</text>
<text x="333.54" y="303.80" font-size="6.5" text-anchor="middle">-1500</text>
<text x="363.07" y="303.80" font-size="6.5" text-anchor="middle">-1000</text>
<text x="392.61" y="303.80" font-size="6.5" text-anchor="middle">-500</text>
<text x="422.15" y="303.80" font-size="6.5" text-anchor="middle">0</text>
<text x="451.69" y="303.80" font-size="6.5" text-anchor="middle">500</text>
<text x="481.22" y="303.80" font-size="6.5" text-anchor="middle">1000</text>
<text x="510.76" y="303.80" font-size="6.5" text-anchor="middle">1500</text>
<text x="540.30" y="303.80" font-size="6.5" text-anchor="middle">2000</text>
<text x="301.80" y="298.00" font-size="6.5" text-anchor="end">0</text>
<text x="301.80" y="284.59" font-size="6.5" text-anchor="end">0.2</text>
<text x="301.80" y="271.18" font-size="6.5" text-anchor="end">0.4</text>
<text x="301.80" y="257.77" font-size="6.5" text-anchor="end">0.6</text>
<text x="301.80" y="244.36" font-size="6.5" text-anchor="end">0.8</text>
<text x="301.80" y="230.94" font-size="6.5" text-anchor="end">1</text>
<text x="301.80" y="217.53" font-size="6.5" text-anchor="end">1.2</text>
<text x="301.80" y="204.12" font-size="6.5" text-anchor="end">1.4</text>
<text x="301.80" y="190.71" font-size="6.5" text-anchor="end">1.6</text>
<text x="301.80" y="177.30" font-size="6.5" text-anchor="end">1.8</text>
<text x="304.00" y="173.40" font-size="8">×</text>
<text x="309.40" y="173.10" font-size="6.6">10</text>
<text x="316.00" y="169.50" font-size="4.6">-4</text>
<text x="422.15" y="312.10" font-size="7.2" style="stroke-width:0.1px" text-anchor="middle">Distance from the midspan (mm)</text>
<text transform="translate(291.60,235.15) rotate(-90)" font-size="7.3" style="stroke-width:0.1px" text-anchor="middle">Concrete strain</text>
<rect x="384.10" y="266.10" width="75.6" height="16.6" fill="#fff" stroke="#d8d8d8" stroke-width="0.6"/>
<line x1="384.90" y1="269.20" x2="392.70" y2="269.20" stroke="#7fd0f2" stroke-width="0.8"/>
<circle cx="388.80" cy="269.20" r="0.9" fill="#7fd0f2"/>
<text x="393.70" y="270.70" font-size="4.45" style="stroke-width:0.08px">Experimental data from Nanni et al.</text>
<line x1="384.90" y1="274.10" x2="392.70" y2="274.10" stroke="#2a2af4" stroke-width="1.3"/>
<text x="393.70" y="275.60" font-size="4.45" style="stroke-width:0.08px">FE model with coarse mesh</text>
<line x1="384.90" y1="279.00" x2="392.70" y2="279.00" stroke="#f62a2a" stroke-width="1.3"/>
<text x="393.70" y="280.50" font-size="4.45" style="stroke-width:0.08px">FE model with fine mesh</text>
<text x="483.00" y="277.80" font-size="6.5"><tspan font-style="italic">μ</tspan> = 0.30</text>
</svg></body></html>
